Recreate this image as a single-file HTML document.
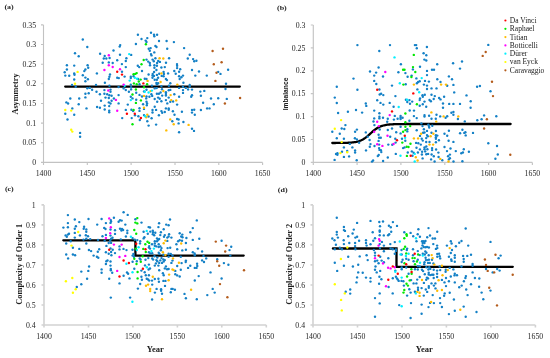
<!DOCTYPE html><html><head><meta charset="utf-8"><style>html,body{margin:0;padding:0;background:#fff;}svg{display:block;}</style></head><body>
<svg width="550" height="358" viewBox="0 0 550 358">
<rect width="550" height="358" fill="#fff"/>
<g stroke="#c2c2c2" stroke-width="1.1" fill="none">
<path d="M43.5 24.9V162.4H262.6"/>
<path d="M41 162.4H43.5M41 142.8H43.5M41 123.1H43.5M41 103.5H43.5M41 83.8H43.5M41 64.2H43.5M41 44.5H43.5M41 24.9H43.5M43.5 162.4V164.9M87.3 162.4V164.9M131.1 162.4V164.9M175 162.4V164.9M218.8 162.4V164.9M262.6 162.4V164.9"/>
</g>
<g font-family="'Liberation Serif', 'DejaVu Serif', serif" font-size="7.8" fill="#262626">
<text x="36.1" y="165" text-anchor="end">0</text>
<text x="36.1" y="145.4" text-anchor="end">0.05</text>
<text x="36.1" y="125.7" text-anchor="end">0.1</text>
<text x="36.1" y="106.1" text-anchor="end">0.15</text>
<text x="36.1" y="86.4" text-anchor="end">0.2</text>
<text x="36.1" y="66.8" text-anchor="end">0.25</text>
<text x="36.1" y="47.1" text-anchor="end">0.3</text>
<text x="36.1" y="27.5" text-anchor="end">0.35</text>
<text x="43.5" y="176" text-anchor="middle">1400</text>
<text x="87.3" y="176" text-anchor="middle">1450</text>
<text x="131.1" y="176" text-anchor="middle">1500</text>
<text x="175" y="176" text-anchor="middle">1550</text>
<text x="218.8" y="176" text-anchor="middle">1600</text>
<text x="262.6" y="176" text-anchor="middle">1650</text>
</g>
<text transform="translate(4.4 8.9) scale(1 0.82)" font-family="'Liberation Serif', 'DejaVu Serif', serif" font-weight="bold" font-size="8" fill="#1a1a1a">(a)</text>
<text transform="translate(17.6 94) rotate(-90)" text-anchor="middle" font-family="'Liberation Serif', 'DejaVu Serif', serif" font-weight="bold" font-size="7.8" fill="#202020" textLength="41" lengthAdjust="spacingAndGlyphs">Asymmetry</text>
<g stroke="#c6c6c6" stroke-width="1.2" fill="none">
<path d="M313.3 25V162.4H532.4"/>
<path d="M310.8 162.4H313.3M310.8 139.5H313.3M310.8 116.6H313.3M310.8 93.7H313.3M310.8 70.8H313.3M310.8 47.9H313.3M310.8 25H313.3M313.3 162.4V164.9M357.1 162.4V164.9M400.9 162.4V164.9M444.8 162.4V164.9M488.6 162.4V164.9M532.4 162.4V164.9"/>
</g>
<g font-family="'Liberation Serif', 'DejaVu Serif', serif" font-size="7.8" fill="#262626">
<text x="305.4" y="165" text-anchor="end">0</text>
<text x="305.4" y="142.1" text-anchor="end">0.05</text>
<text x="305.4" y="119.2" text-anchor="end">0.1</text>
<text x="305.4" y="96.3" text-anchor="end">0.15</text>
<text x="305.4" y="73.4" text-anchor="end">0.2</text>
<text x="305.4" y="50.5" text-anchor="end">0.25</text>
<text x="305.4" y="27.6" text-anchor="end">0.3</text>
<text x="313.3" y="176" text-anchor="middle">1400</text>
<text x="357.1" y="176" text-anchor="middle">1450</text>
<text x="400.9" y="176" text-anchor="middle">1500</text>
<text x="444.8" y="176" text-anchor="middle">1550</text>
<text x="488.6" y="176" text-anchor="middle">1600</text>
<text x="532.4" y="176" text-anchor="middle">1650</text>
</g>
<text transform="translate(277 9.7) scale(1 0.82)" font-family="'Liberation Serif', 'DejaVu Serif', serif" font-weight="bold" font-size="8" fill="#1a1a1a">(b)</text>
<text transform="translate(287.6 94) rotate(-90)" text-anchor="middle" font-family="'Liberation Sans', 'DejaVu Sans', sans-serif" font-weight="bold" font-size="6.7" fill="#202020" textLength="32.7" lengthAdjust="spacingAndGlyphs">Imbalance</text>
<g stroke="#d2d2d2" stroke-width="1.6" fill="none">
<path d="M44 204.9V325H266.3"/>
<path d="M41.5 325H44M41.5 305H44M41.5 285H44M41.5 264.9H44M41.5 244.9H44M41.5 224.9H44M41.5 204.9H44M44 325V327.5M88.5 325V327.5M132.9 325V327.5M177.4 325V327.5M221.8 325V327.5M266.3 325V327.5"/>
</g>
<g font-family="'Liberation Serif', 'DejaVu Serif', serif" font-size="7.8" fill="#262626">
<text x="35.7" y="327.6" text-anchor="end">0.4</text>
<text x="35.7" y="307.6" text-anchor="end">0.5</text>
<text x="35.7" y="287.6" text-anchor="end">0.6</text>
<text x="35.7" y="267.6" text-anchor="end">0.7</text>
<text x="35.7" y="247.5" text-anchor="end">0.8</text>
<text x="35.7" y="227.5" text-anchor="end">0.9</text>
<text x="35.7" y="207.5" text-anchor="end">1</text>
<text x="44" y="338.6" text-anchor="middle">1400</text>
<text x="88.5" y="338.6" text-anchor="middle">1450</text>
<text x="132.9" y="338.6" text-anchor="middle">1500</text>
<text x="177.4" y="338.6" text-anchor="middle">1550</text>
<text x="221.8" y="338.6" text-anchor="middle">1600</text>
<text x="266.3" y="338.6" text-anchor="middle">1650</text>
</g>
<text transform="translate(4.9 190.9) scale(1 0.82)" font-family="'Liberation Serif', 'DejaVu Serif', serif" font-weight="bold" font-size="8" fill="#1a1a1a">(c)</text>
<text transform="translate(21.5 264.3) rotate(-90)" text-anchor="middle" font-family="'Liberation Serif', 'DejaVu Serif', serif" font-weight="bold" font-size="7.9" fill="#202020" textLength="81" lengthAdjust="spacingAndGlyphs">Complexity of Order 1</text>
<text x="155.2" y="352" text-anchor="middle" font-family="'Liberation Serif', 'DejaVu Serif', serif" font-weight="bold" font-size="8.5" fill="#202020">Year</text>
<g stroke="#d2d2d2" stroke-width="1.6" fill="none">
<path d="M313 204.9V325H535.4"/>
<path d="M310.5 325H313M310.5 305H313M310.5 285H313M310.5 264.9H313M310.5 244.9H313M310.5 224.9H313M310.5 204.9H313M313 325V327.5M357.5 325V327.5M402 325V327.5M446.4 325V327.5M490.9 325V327.5M535.4 325V327.5"/>
</g>
<g font-family="'Liberation Serif', 'DejaVu Serif', serif" font-size="7.8" fill="#262626">
<text x="305.1" y="327.6" text-anchor="end">0.4</text>
<text x="305.1" y="307.6" text-anchor="end">0.5</text>
<text x="305.1" y="287.6" text-anchor="end">0.6</text>
<text x="305.1" y="267.6" text-anchor="end">0.7</text>
<text x="305.1" y="247.5" text-anchor="end">0.8</text>
<text x="305.1" y="227.5" text-anchor="end">0.9</text>
<text x="305.1" y="207.5" text-anchor="end">1</text>
<text x="313" y="338.6" text-anchor="middle">1400</text>
<text x="357.5" y="338.6" text-anchor="middle">1450</text>
<text x="402" y="338.6" text-anchor="middle">1500</text>
<text x="446.4" y="338.6" text-anchor="middle">1550</text>
<text x="490.9" y="338.6" text-anchor="middle">1600</text>
<text x="535.4" y="338.6" text-anchor="middle">1650</text>
</g>
<text transform="translate(277.8 191.6) scale(1 0.82)" font-family="'Liberation Serif', 'DejaVu Serif', serif" font-weight="bold" font-size="8" fill="#1a1a1a">(d)</text>
<text transform="translate(291.5 264.3) rotate(-90)" text-anchor="middle" font-family="'Liberation Serif', 'DejaVu Serif', serif" font-weight="bold" font-size="7.9" fill="#202020" textLength="81" lengthAdjust="spacingAndGlyphs">Complexity of Order 2</text>
<text x="424.2" y="352" text-anchor="middle" font-family="'Liberation Serif', 'DejaVu Serif', serif" font-weight="bold" font-size="8.5" fill="#202020">Year</text>
<g stroke="#000" stroke-width="2.3" fill="none" stroke-linecap="round">
<path d="M65.2 86.6H239.8"/>
<path d="M332.3 142.99 L333.3 142.99 L334.3 142.98 L335.3 142.98 L336.3 142.97 L337.3 142.97 L338.3 142.96 L339.3 142.95 L340.3 142.94 L341.3 142.93 L342.3 142.92 L343.3 142.90 L344.3 142.88 L345.3 142.85 L346.3 142.82 L347.3 142.78 L348.3 142.74 L349.3 142.68 L350.3 142.62 L351.3 142.54 L352.3 142.44 L353.3 142.33 L354.3 142.19 L355.3 142.03 L356.3 141.84 L357.3 141.61 L358.3 141.34 L359.3 141.02 L360.3 140.66 L361.3 140.23 L362.3 139.75 L363.3 139.19 L364.3 138.58 L365.3 137.89 L366.3 137.14 L367.3 136.33 L368.3 135.48 L369.3 134.59 L370.3 133.68 L371.3 132.77 L372.3 131.87 L373.3 131.00 L374.3 130.18 L375.3 129.40 L376.3 128.69 L377.3 128.04 L378.3 127.47 L379.3 126.95 L380.3 126.51 L381.3 126.12 L382.3 125.78 L383.3 125.49 L384.3 125.25 L385.3 125.04 L386.3 124.87 L387.3 124.72 L388.3 124.60 L389.3 124.50 L390.3 124.41 L391.3 124.34 L392.3 124.28 L393.3 124.23 L394.3 124.19 L395.3 124.16 L396.3 124.13 L397.3 124.11 L398.3 124.09 L399.3 124.07 L400.3 124.06 L401.3 124.05 L402.3 124.04 L403.3 124.03 L404.3 124.03 L405.3 124.02 L406.3 124.02 L407.3 124.02 L408.3 124.01 L409.3 124.01 L410.3 124.01 L411.3 124.01 L412.3 124.01 L413.3 124.01 L414.3 124.00 L415.3 124.00 L416.3 124.00 L417.3 124.00 L418.3 124.00 L419.3 124.00 L420.3 124.00 L421.3 124.00 L422.3 124.00 L423.3 124.00 L424.3 124.00 L425.3 124.00 L426.3 124.00 L427.3 124.00 L428.3 124.00 L429.3 124.00 L430.3 124.00 L431.3 124.00 L432.3 124.00 L433.3 124.00 L434.3 124.00 L435.3 124.00 L436.3 124.00 L437.3 124.00 L438.3 124.00 L439.3 124.00 L440.3 124.00 L441.3 124.00 L442.3 124.00 L443.3 124.00 L444.3 124.00 L445.3 124.00 L446.3 124.00 L447.3 124.00 L448.3 124.00 L449.3 124.00 L450.3 124.00 L451.3 124.00 L452.3 124.00 L453.3 124.00 L454.3 124.00 L455.3 124.00 L456.3 124.00 L457.3 124.00 L458.3 124.00 L459.3 124.00 L460.3 124.00 L461.3 124.00 L462.3 124.00 L463.3 124.00 L464.3 124.00 L465.3 124.00 L466.3 124.00 L467.3 124.00 L468.3 124.00 L469.3 124.00 L470.3 124.00 L471.3 124.00 L472.3 124.00 L473.3 124.00 L474.3 124.00 L475.3 124.00 L476.3 124.00 L477.3 124.00 L478.3 124.00 L479.3 124.00 L480.3 124.00 L481.3 124.00 L482.3 124.00 L483.3 124.00 L484.3 124.00 L485.3 124.00 L486.3 124.00 L487.3 124.00 L488.3 124.00 L489.3 124.00 L490.3 124.00 L491.3 124.00 L492.3 124.00 L493.3 124.00 L494.3 124.00 L495.3 124.00 L496.3 124.00 L497.3 124.00 L498.3 124.00 L499.3 124.00 L500.3 124.00 L501.3 124.00 L502.3 124.00 L503.3 124.00 L504.3 124.00 L505.3 124.00 L506.3 124.00 L507.3 124.00 L508.3 124.00 L509.3 124.00 L510.3 124.00 L510.6 124.00"/>
<path d="M63.3 240.3H134.4 C135.1 240.3 135.4 241 135.4 242.5 V255.6 H243.7"/>
<path d="M332.9 248.5H396.5 V266.8 H512.8"/>
</g>
<g fill="#1380c6">
<circle cx="82.8" cy="39.5" r="1.2"/>
<circle cx="87.3" cy="47" r="1.2"/>
<circle cx="75" cy="53.3" r="1.2"/>
<circle cx="78.7" cy="56.3" r="1.2"/>
<circle cx="100.1" cy="53.7" r="1.2"/>
<circle cx="104.7" cy="55.9" r="1.2"/>
<circle cx="103.8" cy="58.5" r="1.2"/>
<circle cx="106.3" cy="58.5" r="1.2"/>
<circle cx="109.6" cy="58" r="1.2"/>
<circle cx="113.5" cy="50.5" r="1.2"/>
<circle cx="117.2" cy="60.2" r="1.2"/>
<circle cx="102.7" cy="62.7" r="1.2"/>
<circle cx="108.8" cy="62.4" r="1.2"/>
<circle cx="112.7" cy="63" r="1.2"/>
<circle cx="137.9" cy="34.8" r="1.2"/>
<circle cx="151" cy="32.8" r="1.2"/>
<circle cx="154" cy="34.8" r="1.2"/>
<circle cx="154.3" cy="36.2" r="1.2"/>
<circle cx="157.1" cy="34.8" r="1.2"/>
<circle cx="141.5" cy="39" r="1.2"/>
<circle cx="147.3" cy="38.1" r="1.2"/>
<circle cx="145.7" cy="40.6" r="1.2"/>
<circle cx="146.5" cy="42" r="1.2"/>
<circle cx="135.9" cy="44" r="1.2"/>
<circle cx="159" cy="41" r="1.2"/>
<circle cx="166.6" cy="41" r="1.2"/>
<circle cx="173.9" cy="42.1" r="1.2"/>
<circle cx="120.2" cy="45.1" r="1.2"/>
<circle cx="119.7" cy="46.6" r="1.2"/>
<circle cx="155.4" cy="45.9" r="1.2"/>
<circle cx="156.5" cy="47" r="1.2"/>
<circle cx="167.2" cy="48.8" r="1.2"/>
<circle cx="148.7" cy="48.8" r="1.2"/>
<circle cx="150.6" cy="48.1" r="1.2"/>
<circle cx="149.8" cy="50.7" r="1.2"/>
<circle cx="154.3" cy="52.4" r="1.2"/>
<circle cx="131.2" cy="54.9" r="1.2"/>
<circle cx="120" cy="54.8" r="1.2"/>
<circle cx="151" cy="54.1" r="1.2"/>
<circle cx="151.5" cy="55.4" r="1.2"/>
<circle cx="126.4" cy="58.2" r="1.2"/>
<circle cx="125.8" cy="61" r="1.2"/>
<circle cx="146.5" cy="59.6" r="1.2"/>
<circle cx="148.2" cy="61.6" r="1.2"/>
<circle cx="149.8" cy="63" r="1.2"/>
<circle cx="152.6" cy="59.6" r="1.2"/>
<circle cx="153.8" cy="61.3" r="1.2"/>
<circle cx="155.4" cy="58.2" r="1.2"/>
<circle cx="158.2" cy="61" r="1.2"/>
<circle cx="159.9" cy="61.9" r="1.2"/>
<circle cx="157.1" cy="63" r="1.2"/>
<circle cx="169.1" cy="58.2" r="1.2"/>
<circle cx="166" cy="62.7" r="1.2"/>
<circle cx="121.9" cy="64.1" r="1.2"/>
<circle cx="177" cy="64.1" r="1.2"/>
<circle cx="184.1" cy="48.1" r="1.2"/>
<circle cx="189.7" cy="54.8" r="1.2"/>
<circle cx="187.8" cy="58.5" r="1.2"/>
<circle cx="193.1" cy="59.1" r="1.2"/>
<circle cx="194.2" cy="61.3" r="1.2"/>
<circle cx="196.4" cy="60.8" r="1.2"/>
<circle cx="66.9" cy="65.3" r="1.2"/>
<circle cx="74.2" cy="65.6" r="1.2"/>
<circle cx="87.6" cy="65.3" r="1.2"/>
<circle cx="66.9" cy="69.5" r="1.2"/>
<circle cx="64.7" cy="72.3" r="1.2"/>
<circle cx="65.3" cy="75.6" r="1.2"/>
<circle cx="69.2" cy="75.8" r="1.2"/>
<circle cx="74.2" cy="73.4" r="1.2"/>
<circle cx="74.5" cy="74.8" r="1.2"/>
<circle cx="85.4" cy="69.5" r="1.2"/>
<circle cx="84.3" cy="71.1" r="1.2"/>
<circle cx="88.2" cy="67.8" r="1.2"/>
<circle cx="82.8" cy="75.3" r="1.2"/>
<circle cx="85.4" cy="77.6" r="1.2"/>
<circle cx="87.9" cy="79.3" r="1.2"/>
<circle cx="85.4" cy="81.2" r="1.2"/>
<circle cx="74.2" cy="79.5" r="1.2"/>
<circle cx="96.9" cy="73.4" r="1.2"/>
<circle cx="110" cy="74.5" r="1.2"/>
<circle cx="109.4" cy="76.7" r="1.2"/>
<circle cx="108.8" cy="79" r="1.2"/>
<circle cx="117.2" cy="77.8" r="1.2"/>
<circle cx="104.9" cy="82.7" r="1.2"/>
<circle cx="72" cy="84.9" r="1.2"/>
<circle cx="75.7" cy="86.8" r="1.2"/>
<circle cx="96" cy="84.9" r="1.2"/>
<circle cx="109.4" cy="85.7" r="1.2"/>
<circle cx="87.3" cy="88.2" r="1.2"/>
<circle cx="89.8" cy="87.9" r="1.2"/>
<circle cx="92.1" cy="89.8" r="1.2"/>
<circle cx="96.5" cy="91.8" r="1.2"/>
<circle cx="99.9" cy="94.3" r="1.2"/>
<circle cx="85.4" cy="93.8" r="1.2"/>
<circle cx="88.7" cy="93.2" r="1.2"/>
<circle cx="85.4" cy="97.4" r="1.2"/>
<circle cx="70.3" cy="98.5" r="1.2"/>
<circle cx="79.2" cy="98.5" r="1.2"/>
<circle cx="104.4" cy="90.1" r="1.2"/>
<circle cx="110.5" cy="89.6" r="1.2"/>
<circle cx="110.5" cy="91.8" r="1.2"/>
<circle cx="104.4" cy="93.8" r="1.2"/>
<circle cx="107.2" cy="94.3" r="1.2"/>
<circle cx="109.4" cy="95.2" r="1.2"/>
<circle cx="111.6" cy="95.7" r="1.2"/>
<circle cx="105.5" cy="97.6" r="1.2"/>
<circle cx="108.8" cy="98" r="1.2"/>
<circle cx="113.9" cy="98.5" r="1.2"/>
<circle cx="101" cy="100.8" r="1.2"/>
<circle cx="111.6" cy="100.8" r="1.2"/>
<circle cx="66.4" cy="102.4" r="1.2"/>
<circle cx="68.1" cy="103.5" r="1.2"/>
<circle cx="108.8" cy="102.4" r="1.2"/>
<circle cx="110.5" cy="103.5" r="1.2"/>
<circle cx="78.7" cy="104.3" r="1.2"/>
<circle cx="125.8" cy="67.1" r="1.2"/>
<circle cx="137.8" cy="65.7" r="1.2"/>
<circle cx="139.2" cy="67.1" r="1.2"/>
<circle cx="122" cy="71.7" r="1.2"/>
<circle cx="124.6" cy="76.6" r="1.2"/>
<circle cx="118.8" cy="78.1" r="1.2"/>
<circle cx="142" cy="71" r="1.2"/>
<circle cx="133.6" cy="76.2" r="1.2"/>
<circle cx="130.8" cy="76.7" r="1.2"/>
<circle cx="130.8" cy="78.1" r="1.2"/>
<circle cx="138.1" cy="79" r="1.2"/>
<circle cx="144.8" cy="78.7" r="1.2"/>
<circle cx="146.5" cy="79" r="1.2"/>
<circle cx="130.8" cy="84.6" r="1.2"/>
<circle cx="139.5" cy="84.3" r="1.2"/>
<circle cx="150" cy="65.3" r="1.2"/>
<circle cx="154.4" cy="65.3" r="1.2"/>
<circle cx="156.9" cy="65.8" r="1.2"/>
<circle cx="154.4" cy="67.8" r="1.2"/>
<circle cx="161.4" cy="67.5" r="1.2"/>
<circle cx="164.8" cy="67.1" r="1.2"/>
<circle cx="177.1" cy="65.8" r="1.2"/>
<circle cx="177.1" cy="68.1" r="1.2"/>
<circle cx="156.4" cy="70" r="1.2"/>
<circle cx="154.1" cy="72" r="1.2"/>
<circle cx="148.6" cy="74.5" r="1.2"/>
<circle cx="152.7" cy="73.9" r="1.2"/>
<circle cx="152.5" cy="75.6" r="1.2"/>
<circle cx="153.9" cy="75.9" r="1.2"/>
<circle cx="156.9" cy="74.9" r="1.2"/>
<circle cx="159.2" cy="73.7" r="1.2"/>
<circle cx="163.6" cy="72" r="1.2"/>
<circle cx="163.9" cy="73.9" r="1.2"/>
<circle cx="161.7" cy="75.9" r="1.2"/>
<circle cx="163.6" cy="76.2" r="1.2"/>
<circle cx="168.1" cy="73.4" r="1.2"/>
<circle cx="174.3" cy="71" r="1.2"/>
<circle cx="175.7" cy="73.8" r="1.2"/>
<circle cx="152.5" cy="77.8" r="1.2"/>
<circle cx="158.1" cy="77.8" r="1.2"/>
<circle cx="154.7" cy="79.8" r="1.2"/>
<circle cx="156.9" cy="79.8" r="1.2"/>
<circle cx="165.9" cy="79" r="1.2"/>
<circle cx="167" cy="80.1" r="1.2"/>
<circle cx="156.4" cy="82.9" r="1.2"/>
<circle cx="158.1" cy="83.2" r="1.2"/>
<circle cx="170.3" cy="83.3" r="1.2"/>
<circle cx="156.9" cy="84.3" r="1.2"/>
<circle cx="131.1" cy="87.2" r="1.2"/>
<circle cx="118.6" cy="87" r="1.2"/>
<circle cx="123.6" cy="88.4" r="1.2"/>
<circle cx="125.8" cy="90" r="1.2"/>
<circle cx="131.1" cy="89.4" r="1.2"/>
<circle cx="128.9" cy="91.7" r="1.2"/>
<circle cx="136.2" cy="92.8" r="1.2"/>
<circle cx="144" cy="91.4" r="1.2"/>
<circle cx="146.5" cy="89.7" r="1.2"/>
<circle cx="139.5" cy="94.9" r="1.2"/>
<circle cx="142" cy="96.5" r="1.2"/>
<circle cx="146.5" cy="96.5" r="1.2"/>
<circle cx="146.2" cy="98.4" r="1.2"/>
<circle cx="118.6" cy="95.1" r="1.2"/>
<circle cx="130.8" cy="96.7" r="1.2"/>
<circle cx="132.5" cy="98.4" r="1.2"/>
<circle cx="136.2" cy="99.8" r="1.2"/>
<circle cx="146.5" cy="101.8" r="1.2"/>
<circle cx="147.1" cy="103.4" r="1.2"/>
<circle cx="118.6" cy="103.4" r="1.2"/>
<circle cx="127.8" cy="104.6" r="1.2"/>
<circle cx="143.1" cy="104.3" r="1.2"/>
<circle cx="151.9" cy="85.6" r="1.2"/>
<circle cx="161.4" cy="86.1" r="1.2"/>
<circle cx="168.9" cy="85.8" r="1.2"/>
<circle cx="154.7" cy="88.4" r="1.2"/>
<circle cx="156.7" cy="88.1" r="1.2"/>
<circle cx="162" cy="89.2" r="1.2"/>
<circle cx="168.7" cy="90.3" r="1.2"/>
<circle cx="170.3" cy="89.9" r="1.2"/>
<circle cx="156.9" cy="93.7" r="1.2"/>
<circle cx="158.9" cy="93.7" r="1.2"/>
<circle cx="160.6" cy="92.5" r="1.2"/>
<circle cx="165.9" cy="92.3" r="1.2"/>
<circle cx="165.9" cy="93.9" r="1.2"/>
<circle cx="165.9" cy="95.6" r="1.2"/>
<circle cx="151.4" cy="94.2" r="1.2"/>
<circle cx="152.2" cy="95.9" r="1.2"/>
<circle cx="149.4" cy="96.7" r="1.2"/>
<circle cx="162.2" cy="95.6" r="1.2"/>
<circle cx="174.3" cy="94.2" r="1.2"/>
<circle cx="158.1" cy="97.6" r="1.2"/>
<circle cx="159.7" cy="98.7" r="1.2"/>
<circle cx="154.7" cy="99" r="1.2"/>
<circle cx="168.7" cy="97.6" r="1.2"/>
<circle cx="165.9" cy="100.1" r="1.2"/>
<circle cx="157.2" cy="101.8" r="1.2"/>
<circle cx="161.4" cy="101.2" r="1.2"/>
<circle cx="170.3" cy="101.8" r="1.2"/>
<circle cx="173.1" cy="101.5" r="1.2"/>
<circle cx="167.3" cy="103.4" r="1.2"/>
<circle cx="177.1" cy="104.6" r="1.2"/>
<circle cx="180.2" cy="69.2" r="1.2"/>
<circle cx="179.1" cy="71.7" r="1.2"/>
<circle cx="192" cy="70" r="1.2"/>
<circle cx="199" cy="71.5" r="1.2"/>
<circle cx="195.3" cy="75.6" r="1.2"/>
<circle cx="206.8" cy="75.6" r="1.2"/>
<circle cx="218.2" cy="71.9" r="1.2"/>
<circle cx="220.5" cy="73.9" r="1.2"/>
<circle cx="228.1" cy="69.7" r="1.2"/>
<circle cx="179.1" cy="76.2" r="1.2"/>
<circle cx="183" cy="75.6" r="1.2"/>
<circle cx="181.4" cy="77.3" r="1.2"/>
<circle cx="179.7" cy="79" r="1.2"/>
<circle cx="183.4" cy="82.7" r="1.2"/>
<circle cx="189.7" cy="84.9" r="1.2"/>
<circle cx="189.7" cy="86.5" r="1.2"/>
<circle cx="226" cy="83.8" r="1.2"/>
<circle cx="179.1" cy="87.9" r="1.2"/>
<circle cx="183" cy="86.8" r="1.2"/>
<circle cx="185.8" cy="87.9" r="1.2"/>
<circle cx="188.1" cy="89.4" r="1.2"/>
<circle cx="192" cy="89.6" r="1.2"/>
<circle cx="183" cy="90.1" r="1.2"/>
<circle cx="225.5" cy="89" r="1.2"/>
<circle cx="200.3" cy="91.6" r="1.2"/>
<circle cx="204.3" cy="90.9" r="1.2"/>
<circle cx="183" cy="92.9" r="1.2"/>
<circle cx="192" cy="95.2" r="1.2"/>
<circle cx="191.2" cy="96.8" r="1.2"/>
<circle cx="200.9" cy="95.7" r="1.2"/>
<circle cx="179.1" cy="96.8" r="1.2"/>
<circle cx="211" cy="98.5" r="1.2"/>
<circle cx="218.2" cy="98.2" r="1.2"/>
<circle cx="226.8" cy="98.9" r="1.2"/>
<circle cx="203.1" cy="102.8" r="1.2"/>
<circle cx="213.8" cy="104.3" r="1.2"/>
<circle cx="72.3" cy="108.4" r="1.2"/>
<circle cx="65.3" cy="113.7" r="1.2"/>
<circle cx="74.2" cy="114.8" r="1.2"/>
<circle cx="67.5" cy="119.5" r="1.2"/>
<circle cx="86.5" cy="108.4" r="1.2"/>
<circle cx="97.1" cy="107" r="1.2"/>
<circle cx="99.9" cy="107.8" r="1.2"/>
<circle cx="104.7" cy="105.6" r="1.2"/>
<circle cx="104.7" cy="109.5" r="1.2"/>
<circle cx="109.2" cy="106.1" r="1.2"/>
<circle cx="109.2" cy="110.6" r="1.2"/>
<circle cx="109.2" cy="112.3" r="1.2"/>
<circle cx="80.1" cy="132.9" r="1.2"/>
<circle cx="80.1" cy="136.8" r="1.2"/>
<circle cx="146.8" cy="105.3" r="1.2"/>
<circle cx="125.8" cy="109.9" r="1.2"/>
<circle cx="131.4" cy="109.7" r="1.2"/>
<circle cx="133.1" cy="111.1" r="1.2"/>
<circle cx="139.5" cy="108.2" r="1.2"/>
<circle cx="139.5" cy="110.9" r="1.2"/>
<circle cx="144" cy="108.9" r="1.2"/>
<circle cx="135" cy="115.3" r="1.2"/>
<circle cx="138.4" cy="116.2" r="1.2"/>
<circle cx="144" cy="115.1" r="1.2"/>
<circle cx="122.2" cy="118.1" r="1.2"/>
<circle cx="131.7" cy="118.1" r="1.2"/>
<circle cx="139.8" cy="120" r="1.2"/>
<circle cx="147.3" cy="121.2" r="1.2"/>
<circle cx="154.7" cy="106.7" r="1.2"/>
<circle cx="152.5" cy="110" r="1.2"/>
<circle cx="152.5" cy="112.5" r="1.2"/>
<circle cx="156.1" cy="109.9" r="1.2"/>
<circle cx="161.4" cy="111.1" r="1.2"/>
<circle cx="162.2" cy="112.8" r="1.2"/>
<circle cx="164.8" cy="112" r="1.2"/>
<circle cx="165.9" cy="108.4" r="1.2"/>
<circle cx="168.7" cy="108.4" r="1.2"/>
<circle cx="168.7" cy="109.7" r="1.2"/>
<circle cx="172.9" cy="111.3" r="1.2"/>
<circle cx="174.5" cy="114.8" r="1.2"/>
<circle cx="148.6" cy="116.5" r="1.2"/>
<circle cx="158.9" cy="115.3" r="1.2"/>
<circle cx="151.6" cy="118.3" r="1.2"/>
<circle cx="172.3" cy="121.3" r="1.2"/>
<circle cx="177.1" cy="119" r="1.2"/>
<circle cx="156.1" cy="124.6" r="1.2"/>
<circle cx="148.6" cy="125.6" r="1.2"/>
<circle cx="181.9" cy="111.7" r="1.2"/>
<circle cx="192" cy="110" r="1.2"/>
<circle cx="194.2" cy="109.8" r="1.2"/>
<circle cx="192" cy="112.6" r="1.2"/>
<circle cx="194.8" cy="114.8" r="1.2"/>
<circle cx="200.9" cy="110" r="1.2"/>
<circle cx="207.1" cy="108.4" r="1.2"/>
<circle cx="209.5" cy="108.4" r="1.2"/>
<circle cx="178.6" cy="119.5" r="1.2"/>
<circle cx="178.6" cy="123.4" r="1.2"/>
<circle cx="183.4" cy="122" r="1.2"/>
<circle cx="192" cy="128.8" r="1.2"/>
<circle cx="194" cy="130.9" r="1.2"/>
<circle cx="179.1" cy="132.2" r="1.2"/>
</g>
<g fill="#b45c1c">
<circle cx="212.6" cy="51" r="1.2"/>
<circle cx="223" cy="48.8" r="1.2"/>
<circle cx="221.6" cy="62.2" r="1.2"/>
<circle cx="213.8" cy="64.3" r="1.2"/>
<circle cx="216.5" cy="72.8" r="1.2"/>
<circle cx="215.4" cy="80.9" r="1.2"/>
<circle cx="224.9" cy="103.5" r="1.2"/>
<circle cx="240.1" cy="98" r="1.2"/>
</g>
<g fill="#ffbc00">
<circle cx="159.6" cy="58.3" r="1.2"/>
<circle cx="163.3" cy="58.5" r="1.2"/>
<circle cx="147.6" cy="80.9" r="1.2"/>
<circle cx="161.4" cy="73.4" r="1.2"/>
<circle cx="160.6" cy="82" r="1.2"/>
<circle cx="177.3" cy="84.6" r="1.2"/>
<circle cx="144" cy="95.9" r="1.2"/>
<circle cx="150.5" cy="91.1" r="1.2"/>
<circle cx="163.4" cy="91.1" r="1.2"/>
<circle cx="170.6" cy="95.1" r="1.2"/>
<circle cx="171.2" cy="100.1" r="1.2"/>
<circle cx="176.2" cy="100.4" r="1.2"/>
<circle cx="144" cy="107.8" r="1.2"/>
<circle cx="146.2" cy="117.3" r="1.2"/>
<circle cx="147.3" cy="114.8" r="1.2"/>
<circle cx="170.2" cy="119.4" r="1.2"/>
<circle cx="173.7" cy="124.3" r="1.2"/>
<circle cx="166.3" cy="130.4" r="1.2"/>
<circle cx="188.6" cy="124.9" r="1.2"/>
</g>
<g fill="#ffff00">
<circle cx="77.6" cy="71.9" r="1.2"/>
<circle cx="75" cy="83.8" r="1.2"/>
<circle cx="65.3" cy="110" r="1.2"/>
<circle cx="71.2" cy="110.6" r="1.2"/>
<circle cx="71.2" cy="129.8" r="1.2"/>
<circle cx="72.3" cy="131.6" r="1.2"/>
</g>
<g fill="#00f0ff">
<circle cx="129.2" cy="54.1" r="1.2"/>
<circle cx="134.8" cy="77.8" r="1.2"/>
<circle cx="137" cy="78.7" r="1.2"/>
<circle cx="129.7" cy="80.6" r="1.2"/>
<circle cx="124.7" cy="85.8" r="1.2"/>
<circle cx="144.8" cy="91.7" r="1.2"/>
<circle cx="130.8" cy="100.1" r="1.2"/>
<circle cx="151.9" cy="90.6" r="1.2"/>
<circle cx="148.6" cy="92.5" r="1.2"/>
<circle cx="145.1" cy="116.2" r="1.2"/>
</g>
<g fill="#ff00ff">
<circle cx="108.8" cy="55.2" r="1.2"/>
<circle cx="108.8" cy="65.3" r="1.2"/>
<circle cx="112.7" cy="67" r="1.2"/>
<circle cx="104.4" cy="70" r="1.2"/>
<circle cx="108.3" cy="90.5" r="1.2"/>
<circle cx="115.9" cy="99.9" r="1.2"/>
<circle cx="120" cy="69.2" r="1.2"/>
<circle cx="123.6" cy="84.6" r="1.2"/>
<circle cx="117.2" cy="110.8" r="1.2"/>
</g>
<g fill="#00e800">
<circle cx="145.9" cy="44.2" r="1.2"/>
<circle cx="143.7" cy="60" r="1.2"/>
<circle cx="141.5" cy="64.3" r="1.2"/>
<circle cx="133.6" cy="74.2" r="1.2"/>
<circle cx="135.3" cy="73.9" r="1.2"/>
<circle cx="136.7" cy="73.1" r="1.2"/>
<circle cx="140.6" cy="79.6" r="1.2"/>
<circle cx="138.8" cy="81.5" r="1.2"/>
<circle cx="133.9" cy="83.4" r="1.2"/>
<circle cx="136.7" cy="84.3" r="1.2"/>
<circle cx="147.1" cy="84.3" r="1.2"/>
<circle cx="144" cy="87.2" r="1.2"/>
<circle cx="135.9" cy="89.5" r="1.2"/>
<circle cx="132.5" cy="94.5" r="1.2"/>
<circle cx="140.9" cy="100.4" r="1.2"/>
<circle cx="135.9" cy="102.9" r="1.2"/>
<circle cx="133.6" cy="109.9" r="1.2"/>
<circle cx="132.5" cy="124.3" r="1.2"/>
</g>
<g fill="#ff0000">
<circle cx="117.2" cy="71.7" r="1.2"/>
<circle cx="122" cy="74.6" r="1.2"/>
<circle cx="143.4" cy="83.4" r="1.2"/>
<circle cx="126.9" cy="113.7" r="1.2"/>
<circle cx="134.8" cy="113.7" r="1.2"/>
<circle cx="140.9" cy="118" r="1.2"/>
</g>
<g fill="#1380c6">
<circle cx="357.4" cy="45.1" r="1.2"/>
<circle cx="390" cy="45.1" r="1.2"/>
<circle cx="379.3" cy="51" r="1.2"/>
<circle cx="414.9" cy="45.1" r="1.2"/>
<circle cx="416.2" cy="45.1" r="1.2"/>
<circle cx="416.8" cy="48.2" r="1.2"/>
<circle cx="426.9" cy="47" r="1.2"/>
<circle cx="423.6" cy="53.2" r="1.2"/>
<circle cx="426.3" cy="55.2" r="1.2"/>
<circle cx="424.4" cy="59.6" r="1.2"/>
<circle cx="426.3" cy="60.5" r="1.2"/>
<circle cx="400.9" cy="64.3" r="1.2"/>
<circle cx="437.2" cy="64.3" r="1.2"/>
<circle cx="488.3" cy="44.9" r="1.2"/>
<circle cx="462" cy="61.5" r="1.2"/>
<circle cx="453.1" cy="63.3" r="1.2"/>
<circle cx="370" cy="71.5" r="1.2"/>
<circle cx="376.1" cy="72.6" r="1.2"/>
<circle cx="374.2" cy="75.6" r="1.2"/>
<circle cx="353.5" cy="78.6" r="1.2"/>
<circle cx="374.2" cy="80.9" r="1.2"/>
<circle cx="376.3" cy="84" r="1.2"/>
<circle cx="336.8" cy="86.8" r="1.2"/>
<circle cx="357.4" cy="89.8" r="1.2"/>
<circle cx="334.8" cy="97.6" r="1.2"/>
<circle cx="336.8" cy="103" r="1.2"/>
<circle cx="365.8" cy="103.5" r="1.2"/>
<circle cx="377.2" cy="100.2" r="1.2"/>
<circle cx="378.6" cy="67.5" r="1.2"/>
<circle cx="383" cy="76.5" r="1.2"/>
<circle cx="398.4" cy="72.3" r="1.2"/>
<circle cx="405.4" cy="73.1" r="1.2"/>
<circle cx="407.6" cy="76.7" r="1.2"/>
<circle cx="405.7" cy="84.3" r="1.2"/>
<circle cx="412.9" cy="69.4" r="1.2"/>
<circle cx="420" cy="66.7" r="1.2"/>
<circle cx="427" cy="70.9" r="1.2"/>
<circle cx="432" cy="69.7" r="1.2"/>
<circle cx="434" cy="69.7" r="1.2"/>
<circle cx="427" cy="75.1" r="1.2"/>
<circle cx="411.6" cy="75.6" r="1.2"/>
<circle cx="416.4" cy="78.4" r="1.2"/>
<circle cx="425" cy="80.9" r="1.2"/>
<circle cx="428.9" cy="81.6" r="1.2"/>
<circle cx="437.3" cy="79.2" r="1.2"/>
<circle cx="419.7" cy="81.2" r="1.2"/>
<circle cx="418.1" cy="82" r="1.2"/>
<circle cx="416.9" cy="83.2" r="1.2"/>
<circle cx="423.9" cy="84.6" r="1.2"/>
<circle cx="460" cy="68.6" r="1.2"/>
<circle cx="448.9" cy="76.4" r="1.2"/>
<circle cx="452" cy="79.3" r="1.2"/>
<circle cx="440.5" cy="82" r="1.2"/>
<circle cx="447.2" cy="85.8" r="1.2"/>
<circle cx="453.4" cy="84.9" r="1.2"/>
<circle cx="454.2" cy="92.4" r="1.2"/>
<circle cx="477.1" cy="86.8" r="1.2"/>
<circle cx="479.9" cy="86" r="1.2"/>
<circle cx="490.5" cy="91.3" r="1.2"/>
<circle cx="466.5" cy="95.4" r="1.2"/>
<circle cx="439.1" cy="98" r="1.2"/>
<circle cx="440.5" cy="99.4" r="1.2"/>
<circle cx="444.1" cy="96.8" r="1.2"/>
<circle cx="470.7" cy="101.3" r="1.2"/>
<circle cx="443" cy="103.5" r="1.2"/>
<circle cx="449.2" cy="103.9" r="1.2"/>
<circle cx="453.4" cy="103.9" r="1.2"/>
<circle cx="460" cy="103.9" r="1.2"/>
<circle cx="392" cy="85.6" r="1.2"/>
<circle cx="379.4" cy="89.5" r="1.2"/>
<circle cx="379.7" cy="94.5" r="1.2"/>
<circle cx="381.1" cy="93.8" r="1.2"/>
<circle cx="383.3" cy="95.1" r="1.2"/>
<circle cx="395.4" cy="96.1" r="1.2"/>
<circle cx="380.5" cy="102.9" r="1.2"/>
<circle cx="389.7" cy="102.9" r="1.2"/>
<circle cx="383.3" cy="104.6" r="1.2"/>
<circle cx="405.9" cy="99.8" r="1.2"/>
<circle cx="407.3" cy="102" r="1.2"/>
<circle cx="427" cy="85.6" r="1.2"/>
<circle cx="417.4" cy="89.4" r="1.2"/>
<circle cx="427" cy="89" r="1.2"/>
<circle cx="431.5" cy="88.4" r="1.2"/>
<circle cx="436.5" cy="88.4" r="1.2"/>
<circle cx="422.5" cy="95.3" r="1.2"/>
<circle cx="424.8" cy="94.8" r="1.2"/>
<circle cx="422.8" cy="96.7" r="1.2"/>
<circle cx="431.5" cy="94.8" r="1.2"/>
<circle cx="434.8" cy="96.1" r="1.2"/>
<circle cx="420" cy="98.4" r="1.2"/>
<circle cx="419.7" cy="100.1" r="1.2"/>
<circle cx="433.7" cy="99" r="1.2"/>
<circle cx="429.5" cy="100" r="1.2"/>
<circle cx="430.9" cy="101.2" r="1.2"/>
<circle cx="424.5" cy="101.6" r="1.2"/>
<circle cx="409.4" cy="100.1" r="1.2"/>
<circle cx="412.2" cy="101.6" r="1.2"/>
<circle cx="410" cy="103.7" r="1.2"/>
<circle cx="422.8" cy="104.3" r="1.2"/>
<circle cx="366.3" cy="105.9" r="1.2"/>
<circle cx="338.1" cy="113" r="1.2"/>
<circle cx="347.9" cy="111.7" r="1.2"/>
<circle cx="356" cy="110" r="1.2"/>
<circle cx="362.1" cy="112.6" r="1.2"/>
<circle cx="374.2" cy="110.6" r="1.2"/>
<circle cx="374.2" cy="118.4" r="1.2"/>
<circle cx="373.5" cy="121.5" r="1.2"/>
<circle cx="374.4" cy="125.1" r="1.2"/>
<circle cx="345.4" cy="125.1" r="1.2"/>
<circle cx="341.7" cy="128.5" r="1.2"/>
<circle cx="344.3" cy="129" r="1.2"/>
<circle cx="332.3" cy="131.8" r="1.2"/>
<circle cx="339.8" cy="133.8" r="1.2"/>
<circle cx="356.9" cy="129.6" r="1.2"/>
<circle cx="355.1" cy="131.8" r="1.2"/>
<circle cx="365.8" cy="132.4" r="1.2"/>
<circle cx="336.8" cy="138.2" r="1.2"/>
<circle cx="343.9" cy="138.7" r="1.2"/>
<circle cx="354.9" cy="138.3" r="1.2"/>
<circle cx="356.9" cy="139.4" r="1.2"/>
<circle cx="367.7" cy="136.8" r="1.2"/>
<circle cx="369.6" cy="140" r="1.2"/>
<circle cx="359.1" cy="142.7" r="1.2"/>
<circle cx="349.8" cy="143.9" r="1.2"/>
<circle cx="370.5" cy="144.1" r="1.2"/>
<circle cx="393.6" cy="106.7" r="1.2"/>
<circle cx="379.4" cy="113.3" r="1.2"/>
<circle cx="394.8" cy="115.9" r="1.2"/>
<circle cx="400.6" cy="115.9" r="1.2"/>
<circle cx="400.6" cy="117.6" r="1.2"/>
<circle cx="402.6" cy="117.7" r="1.2"/>
<circle cx="400.6" cy="119" r="1.2"/>
<circle cx="379.4" cy="116.7" r="1.2"/>
<circle cx="379.4" cy="118.4" r="1.2"/>
<circle cx="383" cy="117.7" r="1.2"/>
<circle cx="387.8" cy="118.7" r="1.2"/>
<circle cx="393.9" cy="119.6" r="1.2"/>
<circle cx="397.6" cy="118.7" r="1.2"/>
<circle cx="387.2" cy="121.8" r="1.2"/>
<circle cx="419.7" cy="105.7" r="1.2"/>
<circle cx="426.2" cy="106.7" r="1.2"/>
<circle cx="409.7" cy="110.5" r="1.2"/>
<circle cx="414" cy="110.6" r="1.2"/>
<circle cx="413.9" cy="116.1" r="1.2"/>
<circle cx="416.7" cy="118.1" r="1.2"/>
<circle cx="424.5" cy="115.1" r="1.2"/>
<circle cx="424.5" cy="116.5" r="1.2"/>
<circle cx="429.1" cy="115.8" r="1.2"/>
<circle cx="436.5" cy="114.8" r="1.2"/>
<circle cx="431.5" cy="118.7" r="1.2"/>
<circle cx="435.8" cy="118.7" r="1.2"/>
<circle cx="409.4" cy="120.8" r="1.2"/>
<circle cx="421.4" cy="123.4" r="1.2"/>
<circle cx="428.4" cy="124.6" r="1.2"/>
<circle cx="379.7" cy="129.5" r="1.2"/>
<circle cx="387.8" cy="130" r="1.2"/>
<circle cx="392" cy="128.5" r="1.2"/>
<circle cx="400.6" cy="126.7" r="1.2"/>
<circle cx="407.3" cy="129.2" r="1.2"/>
<circle cx="407.3" cy="131.4" r="1.2"/>
<circle cx="396.2" cy="132.2" r="1.2"/>
<circle cx="400.6" cy="133.4" r="1.2"/>
<circle cx="378.6" cy="134.8" r="1.2"/>
<circle cx="390.2" cy="136.7" r="1.2"/>
<circle cx="379.1" cy="137.8" r="1.2"/>
<circle cx="380.8" cy="137.8" r="1.2"/>
<circle cx="395.3" cy="138.7" r="1.2"/>
<circle cx="402" cy="138.7" r="1.2"/>
<circle cx="405.3" cy="140.8" r="1.2"/>
<circle cx="378.6" cy="140.9" r="1.2"/>
<circle cx="395.6" cy="142.6" r="1.2"/>
<circle cx="388.3" cy="144.6" r="1.2"/>
<circle cx="379.1" cy="144.6" r="1.2"/>
<circle cx="422.5" cy="126.1" r="1.2"/>
<circle cx="428.9" cy="126.1" r="1.2"/>
<circle cx="429.2" cy="127.5" r="1.2"/>
<circle cx="432.3" cy="125.8" r="1.2"/>
<circle cx="416.7" cy="130.3" r="1.2"/>
<circle cx="423.9" cy="129.2" r="1.2"/>
<circle cx="427" cy="130.9" r="1.2"/>
<circle cx="435.9" cy="131" r="1.2"/>
<circle cx="423.1" cy="132.8" r="1.2"/>
<circle cx="424.5" cy="132.5" r="1.2"/>
<circle cx="431.5" cy="132.8" r="1.2"/>
<circle cx="420" cy="135.9" r="1.2"/>
<circle cx="427" cy="135.1" r="1.2"/>
<circle cx="427.8" cy="136.2" r="1.2"/>
<circle cx="435.9" cy="135.3" r="1.2"/>
<circle cx="437.3" cy="135.6" r="1.2"/>
<circle cx="435.9" cy="137.3" r="1.2"/>
<circle cx="435.9" cy="138.7" r="1.2"/>
<circle cx="426.2" cy="138.1" r="1.2"/>
<circle cx="421.7" cy="138.7" r="1.2"/>
<circle cx="422.8" cy="140.6" r="1.2"/>
<circle cx="426.2" cy="142" r="1.2"/>
<circle cx="429.5" cy="142" r="1.2"/>
<circle cx="435.9" cy="142.2" r="1.2"/>
<circle cx="416.1" cy="142.9" r="1.2"/>
<circle cx="418.3" cy="143.2" r="1.2"/>
<circle cx="420.8" cy="144.6" r="1.2"/>
<circle cx="443" cy="107.8" r="1.2"/>
<circle cx="470.6" cy="107.7" r="1.2"/>
<circle cx="451.4" cy="112.8" r="1.2"/>
<circle cx="453.4" cy="111.9" r="1.2"/>
<circle cx="453.4" cy="114.8" r="1.2"/>
<circle cx="440.2" cy="116.4" r="1.2"/>
<circle cx="445.6" cy="117.8" r="1.2"/>
<circle cx="447.2" cy="116.2" r="1.2"/>
<circle cx="457.9" cy="119" r="1.2"/>
<circle cx="464.8" cy="121.4" r="1.2"/>
<circle cx="477.3" cy="120.3" r="1.2"/>
<circle cx="481.6" cy="119.2" r="1.2"/>
<circle cx="484.1" cy="115.4" r="1.2"/>
<circle cx="496.3" cy="116.2" r="1.2"/>
<circle cx="448.9" cy="130.7" r="1.2"/>
<circle cx="462.4" cy="129.8" r="1.2"/>
<circle cx="460.1" cy="133.3" r="1.2"/>
<circle cx="464.3" cy="132.9" r="1.2"/>
<circle cx="465.4" cy="132.2" r="1.2"/>
<circle cx="465.7" cy="135.4" r="1.2"/>
<circle cx="473" cy="132.9" r="1.2"/>
<circle cx="444.5" cy="133.8" r="1.2"/>
<circle cx="447.2" cy="135.7" r="1.2"/>
<circle cx="438.9" cy="140.2" r="1.2"/>
<circle cx="448.6" cy="140.8" r="1.2"/>
<circle cx="453.4" cy="141.9" r="1.2"/>
<circle cx="488.3" cy="143.2" r="1.2"/>
<circle cx="343.9" cy="147.4" r="1.2"/>
<circle cx="352.4" cy="147.4" r="1.2"/>
<circle cx="369.8" cy="146.8" r="1.2"/>
<circle cx="374.5" cy="146" r="1.2"/>
<circle cx="355.1" cy="150.4" r="1.2"/>
<circle cx="355.1" cy="152.5" r="1.2"/>
<circle cx="366" cy="150.4" r="1.2"/>
<circle cx="342" cy="151.8" r="1.2"/>
<circle cx="347.2" cy="150.9" r="1.2"/>
<circle cx="336" cy="154" r="1.2"/>
<circle cx="337.4" cy="153.3" r="1.2"/>
<circle cx="337.4" cy="154.7" r="1.2"/>
<circle cx="343.9" cy="156.9" r="1.2"/>
<circle cx="349.1" cy="156.4" r="1.2"/>
<circle cx="377.8" cy="156.1" r="1.2"/>
<circle cx="334.6" cy="159.9" r="1.2"/>
<circle cx="356.7" cy="160.2" r="1.2"/>
<circle cx="372" cy="161.6" r="1.2"/>
<circle cx="373.1" cy="160.5" r="1.2"/>
<circle cx="392.2" cy="144.8" r="1.2"/>
<circle cx="379.1" cy="148.1" r="1.2"/>
<circle cx="379.5" cy="149.9" r="1.2"/>
<circle cx="380.9" cy="150.3" r="1.2"/>
<circle cx="381.3" cy="152.1" r="1.2"/>
<circle cx="378.7" cy="155" r="1.2"/>
<circle cx="403.1" cy="148.1" r="1.2"/>
<circle cx="404.5" cy="147.4" r="1.2"/>
<circle cx="416.5" cy="147.7" r="1.2"/>
<circle cx="395.8" cy="153.9" r="1.2"/>
<circle cx="407.8" cy="152.5" r="1.2"/>
<circle cx="411.8" cy="151.4" r="1.2"/>
<circle cx="413.6" cy="152.8" r="1.2"/>
<circle cx="412.5" cy="155.7" r="1.2"/>
<circle cx="387.8" cy="157.5" r="1.2"/>
<circle cx="383.1" cy="161" r="1.2"/>
<circle cx="419.9" cy="149.4" r="1.2"/>
<circle cx="424.5" cy="147.4" r="1.2"/>
<circle cx="426.3" cy="146.5" r="1.2"/>
<circle cx="424.5" cy="149.2" r="1.2"/>
<circle cx="427.4" cy="149.2" r="1.2"/>
<circle cx="425.2" cy="151.4" r="1.2"/>
<circle cx="432.1" cy="148.1" r="1.2"/>
<circle cx="432.1" cy="150.1" r="1.2"/>
<circle cx="436.1" cy="149.5" r="1.2"/>
<circle cx="444.5" cy="147" r="1.2"/>
<circle cx="450.5" cy="148.5" r="1.2"/>
<circle cx="447" cy="151.1" r="1.2"/>
<circle cx="417.9" cy="152.5" r="1.2"/>
<circle cx="422.1" cy="151.7" r="1.2"/>
<circle cx="421.9" cy="154.5" r="1.2"/>
<circle cx="426.3" cy="154.3" r="1.2"/>
<circle cx="428.1" cy="153.9" r="1.2"/>
<circle cx="431.6" cy="154.5" r="1.2"/>
<circle cx="433.8" cy="156.2" r="1.2"/>
<circle cx="438.4" cy="152.6" r="1.2"/>
<circle cx="438.6" cy="157" r="1.2"/>
<circle cx="422.6" cy="158.4" r="1.2"/>
<circle cx="431.1" cy="159.4" r="1.2"/>
<circle cx="442.3" cy="160.3" r="1.2"/>
<circle cx="448.1" cy="156.2" r="1.2"/>
<circle cx="449.9" cy="154.6" r="1.2"/>
<circle cx="449.9" cy="158.3" r="1.2"/>
<circle cx="448.8" cy="159.4" r="1.2"/>
<circle cx="434.6" cy="161.5" r="1.2"/>
<circle cx="453.5" cy="161.5" r="1.2"/>
<circle cx="497" cy="146" r="1.2"/>
<circle cx="455.8" cy="151.1" r="1.2"/>
<circle cx="463.8" cy="149.3" r="1.2"/>
<circle cx="461.3" cy="153.3" r="1.2"/>
<circle cx="462.9" cy="152.5" r="1.2"/>
<circle cx="468.9" cy="151.8" r="1.2"/>
<circle cx="497.8" cy="154.5" r="1.2"/>
<circle cx="495.4" cy="158.8" r="1.2"/>
<circle cx="462.4" cy="161.3" r="1.2"/>
</g>
<g fill="#b45c1c">
<circle cx="485.7" cy="52" r="1.2"/>
<circle cx="482.7" cy="55.9" r="1.2"/>
<circle cx="492" cy="81.8" r="1.2"/>
<circle cx="493" cy="96.1" r="1.2"/>
<circle cx="486.9" cy="119.2" r="1.2"/>
<circle cx="484.1" cy="128.5" r="1.2"/>
<circle cx="510.3" cy="154.7" r="1.2"/>
</g>
<g fill="#ffbc00">
<circle cx="413.9" cy="84.6" r="1.2"/>
<circle cx="441.1" cy="84.6" r="1.2"/>
<circle cx="446" cy="84.6" r="1.2"/>
<circle cx="431.4" cy="112.4" r="1.2"/>
<circle cx="436.2" cy="121.6" r="1.2"/>
<circle cx="421.1" cy="133.7" r="1.2"/>
<circle cx="433.4" cy="133.8" r="1.2"/>
<circle cx="430.6" cy="136.2" r="1.2"/>
<circle cx="413.9" cy="138.4" r="1.2"/>
<circle cx="418.1" cy="138.4" r="1.2"/>
<circle cx="429.5" cy="144.6" r="1.2"/>
<circle cx="433.1" cy="144.6" r="1.2"/>
<circle cx="443.6" cy="116.4" r="1.2"/>
<circle cx="458.3" cy="116.4" r="1.2"/>
<circle cx="415.8" cy="157.2" r="1.2"/>
<circle cx="417.6" cy="160.5" r="1.2"/>
<circle cx="440.3" cy="158.9" r="1.2"/>
<circle cx="448.5" cy="161.5" r="1.2"/>
</g>
<g fill="#ffff00">
<circle cx="341.1" cy="120.1" r="1.2"/>
<circle cx="334.8" cy="128.7" r="1.2"/>
<circle cx="341.7" cy="142.1" r="1.2"/>
<circle cx="340.4" cy="153.1" r="1.2"/>
<circle cx="347.2" cy="152.2" r="1.2"/>
</g>
<g fill="#00f0ff">
<circle cx="394.5" cy="57.4" r="1.2"/>
<circle cx="399.8" cy="83.2" r="1.2"/>
<circle cx="421.7" cy="78.1" r="1.2"/>
<circle cx="407.1" cy="99.8" r="1.2"/>
<circle cx="419.2" cy="92.3" r="1.2"/>
<circle cx="398.7" cy="107" r="1.2"/>
<circle cx="405.1" cy="137.8" r="1.2"/>
<circle cx="400.5" cy="155.7" r="1.2"/>
<circle cx="414.7" cy="153.9" r="1.2"/>
<circle cx="414.7" cy="161.5" r="1.2"/>
</g>
<g fill="#ff00ff">
<circle cx="385.3" cy="72" r="1.2"/>
<circle cx="377.2" cy="121.8" r="1.2"/>
<circle cx="374.2" cy="131.8" r="1.2"/>
<circle cx="377.2" cy="144.3" r="1.2"/>
<circle cx="389.7" cy="115.1" r="1.2"/>
<circle cx="378.8" cy="126.1" r="1.2"/>
<circle cx="387.5" cy="135.7" r="1.2"/>
<circle cx="393.6" cy="144" r="1.2"/>
<circle cx="382.4" cy="145.9" r="1.2"/>
</g>
<g fill="#00e800">
<circle cx="413.8" cy="54.9" r="1.2"/>
<circle cx="403.1" cy="69.7" r="1.2"/>
<circle cx="404.5" cy="69.7" r="1.2"/>
<circle cx="403.4" cy="84.6" r="1.2"/>
<circle cx="413" cy="67.1" r="1.2"/>
<circle cx="415.3" cy="72" r="1.2"/>
<circle cx="411.4" cy="77" r="1.2"/>
<circle cx="416.9" cy="104.3" r="1.2"/>
<circle cx="405.4" cy="113.5" r="1.2"/>
<circle cx="405.4" cy="122.3" r="1.2"/>
<circle cx="405.4" cy="126.7" r="1.2"/>
<circle cx="405.4" cy="130.1" r="1.2"/>
<circle cx="403.1" cy="131.8" r="1.2"/>
<circle cx="402.3" cy="142.6" r="1.2"/>
<circle cx="410.2" cy="126.1" r="1.2"/>
<circle cx="410.5" cy="143.7" r="1.2"/>
<circle cx="406.7" cy="146.8" r="1.2"/>
<circle cx="408.5" cy="147" r="1.2"/>
<circle cx="406.9" cy="155.9" r="1.2"/>
</g>
<g fill="#ff0000">
<circle cx="377.2" cy="89.8" r="1.2"/>
<circle cx="413.3" cy="93.4" r="1.2"/>
<circle cx="392" cy="111.4" r="1.2"/>
<circle cx="404.8" cy="135.7" r="1.2"/>
<circle cx="397" cy="140.2" r="1.2"/>
<circle cx="410.7" cy="155.7" r="1.2"/>
</g>
<g fill="#1380c6">
<circle cx="67.9" cy="215.1" r="1.2"/>
<circle cx="74.8" cy="219.5" r="1.2"/>
<circle cx="79.3" cy="222.1" r="1.2"/>
<circle cx="88.5" cy="219" r="1.2"/>
<circle cx="101.6" cy="219" r="1.2"/>
<circle cx="67.9" cy="223.1" r="1.2"/>
<circle cx="63.4" cy="227.6" r="1.2"/>
<circle cx="67.9" cy="227.3" r="1.2"/>
<circle cx="75.9" cy="226.2" r="1.2"/>
<circle cx="74.8" cy="228.7" r="1.2"/>
<circle cx="84.1" cy="226.8" r="1.2"/>
<circle cx="83.7" cy="228.7" r="1.2"/>
<circle cx="86.3" cy="229.4" r="1.2"/>
<circle cx="97.2" cy="224.6" r="1.2"/>
<circle cx="105.9" cy="223.1" r="1.2"/>
<circle cx="104.2" cy="227.9" r="1.2"/>
<circle cx="105.5" cy="229" r="1.2"/>
<circle cx="74.8" cy="232.9" r="1.2"/>
<circle cx="86.3" cy="231.8" r="1.2"/>
<circle cx="69" cy="233.8" r="1.2"/>
<circle cx="67.9" cy="234.6" r="1.2"/>
<circle cx="65.6" cy="235.4" r="1.2"/>
<circle cx="66.8" cy="236.8" r="1.2"/>
<circle cx="79.9" cy="235.4" r="1.2"/>
<circle cx="85.8" cy="235.2" r="1.2"/>
<circle cx="88" cy="236.3" r="1.2"/>
<circle cx="102.5" cy="236.3" r="1.2"/>
<circle cx="105.9" cy="234.9" r="1.2"/>
<circle cx="74.8" cy="237.6" r="1.2"/>
<circle cx="86.3" cy="238.7" r="1.2"/>
<circle cx="90.2" cy="239.1" r="1.2"/>
<circle cx="70.7" cy="241.3" r="1.2"/>
<circle cx="83.5" cy="239.6" r="1.2"/>
<circle cx="98" cy="239.9" r="1.2"/>
<circle cx="104.7" cy="240.8" r="1.2"/>
<circle cx="66.2" cy="243.5" r="1.2"/>
<circle cx="86.3" cy="243.5" r="1.2"/>
<circle cx="108.7" cy="243" r="1.2"/>
<circle cx="123.6" cy="212.2" r="1.2"/>
<circle cx="127.7" cy="214.9" r="1.2"/>
<circle cx="110.8" cy="220.1" r="1.2"/>
<circle cx="111.1" cy="221.5" r="1.2"/>
<circle cx="110.5" cy="222.9" r="1.2"/>
<circle cx="113.9" cy="217.7" r="1.2"/>
<circle cx="118.6" cy="221.8" r="1.2"/>
<circle cx="120" cy="220.2" r="1.2"/>
<circle cx="121.7" cy="220.6" r="1.2"/>
<circle cx="125.3" cy="224.6" r="1.2"/>
<circle cx="135.4" cy="219.2" r="1.2"/>
<circle cx="141.5" cy="222.6" r="1.2"/>
<circle cx="159.1" cy="223.2" r="1.2"/>
<circle cx="166.2" cy="224.6" r="1.2"/>
<circle cx="110.5" cy="229.5" r="1.2"/>
<circle cx="110.5" cy="235.6" r="1.2"/>
<circle cx="115" cy="230.3" r="1.2"/>
<circle cx="115" cy="233.9" r="1.2"/>
<circle cx="120" cy="228.8" r="1.2"/>
<circle cx="122" cy="228.9" r="1.2"/>
<circle cx="121.4" cy="230.6" r="1.2"/>
<circle cx="123.1" cy="230" r="1.2"/>
<circle cx="127.3" cy="230.6" r="1.2"/>
<circle cx="127.3" cy="233.1" r="1.2"/>
<circle cx="125.9" cy="236.5" r="1.2"/>
<circle cx="132.6" cy="238.1" r="1.2"/>
<circle cx="111.1" cy="238.7" r="1.2"/>
<circle cx="112.5" cy="237.8" r="1.2"/>
<circle cx="110.2" cy="240.6" r="1.2"/>
<circle cx="111.1" cy="242.9" r="1.2"/>
<circle cx="120.8" cy="239.4" r="1.2"/>
<circle cx="134.8" cy="239.8" r="1.2"/>
<circle cx="137.3" cy="240.1" r="1.2"/>
<circle cx="148.6" cy="227.1" r="1.2"/>
<circle cx="150" cy="227.5" r="1.2"/>
<circle cx="158.4" cy="227.1" r="1.2"/>
<circle cx="163.7" cy="229.2" r="1.2"/>
<circle cx="143.6" cy="231.7" r="1.2"/>
<circle cx="150.3" cy="231.6" r="1.2"/>
<circle cx="152.8" cy="230.6" r="1.2"/>
<circle cx="153.1" cy="232.3" r="1.2"/>
<circle cx="152.8" cy="234.2" r="1.2"/>
<circle cx="155.3" cy="232.8" r="1.2"/>
<circle cx="147.8" cy="233.7" r="1.2"/>
<circle cx="160.9" cy="232.2" r="1.2"/>
<circle cx="160.3" cy="235.1" r="1.2"/>
<circle cx="164.8" cy="235.1" r="1.2"/>
<circle cx="164" cy="236.7" r="1.2"/>
<circle cx="154.2" cy="235.3" r="1.2"/>
<circle cx="144.4" cy="237.3" r="1.2"/>
<circle cx="143.6" cy="238.4" r="1.2"/>
<circle cx="167.3" cy="237.6" r="1.2"/>
<circle cx="157" cy="238.4" r="1.2"/>
<circle cx="159.2" cy="239" r="1.2"/>
<circle cx="158.1" cy="239.8" r="1.2"/>
<circle cx="140.2" cy="241.2" r="1.2"/>
<circle cx="154.8" cy="241.2" r="1.2"/>
<circle cx="157" cy="241.2" r="1.2"/>
<circle cx="167.3" cy="240.9" r="1.2"/>
<circle cx="140" cy="243.4" r="1.2"/>
<circle cx="152" cy="244.3" r="1.2"/>
<circle cx="154.8" cy="243.4" r="1.2"/>
<circle cx="158.7" cy="244.3" r="1.2"/>
<circle cx="170" cy="219.5" r="1.2"/>
<circle cx="168.6" cy="225.3" r="1.2"/>
<circle cx="196.8" cy="220.4" r="1.2"/>
<circle cx="192.8" cy="228.1" r="1.2"/>
<circle cx="190.3" cy="232.2" r="1.2"/>
<circle cx="169.1" cy="234.3" r="1.2"/>
<circle cx="168.6" cy="236.5" r="1.2"/>
<circle cx="171.4" cy="237.6" r="1.2"/>
<circle cx="179.7" cy="233.2" r="1.2"/>
<circle cx="182.3" cy="234.6" r="1.2"/>
<circle cx="181.2" cy="236.5" r="1.2"/>
<circle cx="182.5" cy="237.2" r="1.2"/>
<circle cx="186.4" cy="238" r="1.2"/>
<circle cx="178.1" cy="241.3" r="1.2"/>
<circle cx="179.7" cy="240.2" r="1.2"/>
<circle cx="182" cy="240.8" r="1.2"/>
<circle cx="185.9" cy="243" r="1.2"/>
<circle cx="192.8" cy="239.9" r="1.2"/>
<circle cx="199.3" cy="238.7" r="1.2"/>
<circle cx="221.6" cy="240.8" r="1.2"/>
<circle cx="176.4" cy="244.3" r="1.2"/>
<circle cx="72.9" cy="247.8" r="1.2"/>
<circle cx="79.3" cy="248.9" r="1.2"/>
<circle cx="88.9" cy="250" r="1.2"/>
<circle cx="91.1" cy="251.1" r="1.2"/>
<circle cx="99.2" cy="249.2" r="1.2"/>
<circle cx="97.8" cy="251.7" r="1.2"/>
<circle cx="106.4" cy="245.9" r="1.2"/>
<circle cx="105.9" cy="252.3" r="1.2"/>
<circle cx="108.7" cy="253.7" r="1.2"/>
<circle cx="66.2" cy="254.5" r="1.2"/>
<circle cx="72.9" cy="254.5" r="1.2"/>
<circle cx="75.1" cy="255.3" r="1.2"/>
<circle cx="93.6" cy="255.6" r="1.2"/>
<circle cx="96.9" cy="256.7" r="1.2"/>
<circle cx="98.3" cy="257.8" r="1.2"/>
<circle cx="68.1" cy="258.4" r="1.2"/>
<circle cx="106.4" cy="261.2" r="1.2"/>
<circle cx="107.5" cy="260.4" r="1.2"/>
<circle cx="105.9" cy="264" r="1.2"/>
<circle cx="89.1" cy="266.5" r="1.2"/>
<circle cx="101.6" cy="269.4" r="1.2"/>
<circle cx="101.6" cy="272.7" r="1.2"/>
<circle cx="88.3" cy="270.9" r="1.2"/>
<circle cx="81.3" cy="271.6" r="1.2"/>
<circle cx="87.1" cy="278.7" r="1.2"/>
<circle cx="109.2" cy="278.7" r="1.2"/>
<circle cx="81.3" cy="284.3" r="1.2"/>
<circle cx="119.5" cy="246.4" r="1.2"/>
<circle cx="110.5" cy="248.4" r="1.2"/>
<circle cx="112.7" cy="249.7" r="1.2"/>
<circle cx="111.1" cy="252" r="1.2"/>
<circle cx="115" cy="253.1" r="1.2"/>
<circle cx="119.5" cy="249.4" r="1.2"/>
<circle cx="123.5" cy="248.9" r="1.2"/>
<circle cx="126.5" cy="250.1" r="1.2"/>
<circle cx="132.5" cy="249.7" r="1.2"/>
<circle cx="111.4" cy="255.3" r="1.2"/>
<circle cx="133.4" cy="253.9" r="1.2"/>
<circle cx="132.6" cy="255.6" r="1.2"/>
<circle cx="134" cy="256.7" r="1.2"/>
<circle cx="110.5" cy="261.5" r="1.2"/>
<circle cx="132.6" cy="261.8" r="1.2"/>
<circle cx="136.8" cy="261.2" r="1.2"/>
<circle cx="149.2" cy="246.1" r="1.2"/>
<circle cx="148.9" cy="247.5" r="1.2"/>
<circle cx="154.8" cy="245.8" r="1.2"/>
<circle cx="156.4" cy="246.4" r="1.2"/>
<circle cx="158.7" cy="247" r="1.2"/>
<circle cx="160.3" cy="246.4" r="1.2"/>
<circle cx="161.5" cy="248.1" r="1.2"/>
<circle cx="150" cy="248.6" r="1.2"/>
<circle cx="160.9" cy="250.3" r="1.2"/>
<circle cx="167.6" cy="248.1" r="1.2"/>
<circle cx="148.9" cy="252.3" r="1.2"/>
<circle cx="150.3" cy="253.4" r="1.2"/>
<circle cx="152.2" cy="253.3" r="1.2"/>
<circle cx="158.7" cy="252.8" r="1.2"/>
<circle cx="159.5" cy="253.9" r="1.2"/>
<circle cx="163.4" cy="254.8" r="1.2"/>
<circle cx="154.5" cy="256.2" r="1.2"/>
<circle cx="139.7" cy="258.4" r="1.2"/>
<circle cx="140.5" cy="259.5" r="1.2"/>
<circle cx="148.3" cy="258.1" r="1.2"/>
<circle cx="152.2" cy="258.4" r="1.2"/>
<circle cx="153.1" cy="259.6" r="1.2"/>
<circle cx="145.5" cy="259.8" r="1.2"/>
<circle cx="157.3" cy="257.6" r="1.2"/>
<circle cx="161.5" cy="258.1" r="1.2"/>
<circle cx="156.4" cy="260.1" r="1.2"/>
<circle cx="157.3" cy="261.2" r="1.2"/>
<circle cx="160.3" cy="260.4" r="1.2"/>
<circle cx="163.4" cy="259.5" r="1.2"/>
<circle cx="164.8" cy="260.1" r="1.2"/>
<circle cx="155.9" cy="263.4" r="1.2"/>
<circle cx="159.2" cy="262.9" r="1.2"/>
<circle cx="162" cy="262.9" r="1.2"/>
<circle cx="163.7" cy="261.5" r="1.2"/>
<circle cx="148.9" cy="264.6" r="1.2"/>
<circle cx="170.2" cy="247.8" r="1.2"/>
<circle cx="177.2" cy="249.2" r="1.2"/>
<circle cx="182.3" cy="250.4" r="1.2"/>
<circle cx="185.9" cy="249.7" r="1.2"/>
<circle cx="197.9" cy="248.6" r="1.2"/>
<circle cx="202.1" cy="251.5" r="1.2"/>
<circle cx="192.8" cy="252.3" r="1.2"/>
<circle cx="194.6" cy="253.4" r="1.2"/>
<circle cx="194.8" cy="255.3" r="1.2"/>
<circle cx="168.6" cy="253.7" r="1.2"/>
<circle cx="170.8" cy="253.9" r="1.2"/>
<circle cx="172.5" cy="255.6" r="1.2"/>
<circle cx="168.6" cy="256.7" r="1.2"/>
<circle cx="180.8" cy="256.7" r="1.2"/>
<circle cx="203.5" cy="255.9" r="1.2"/>
<circle cx="206.2" cy="258.4" r="1.2"/>
<circle cx="172.5" cy="260.6" r="1.2"/>
<circle cx="171.4" cy="262.9" r="1.2"/>
<circle cx="181.6" cy="263.1" r="1.2"/>
<circle cx="185.9" cy="260.6" r="1.2"/>
<circle cx="185.7" cy="262" r="1.2"/>
<circle cx="202.1" cy="260.4" r="1.2"/>
<circle cx="204" cy="262" r="1.2"/>
<circle cx="217.2" cy="259.3" r="1.2"/>
<circle cx="223.9" cy="263.1" r="1.2"/>
<circle cx="177.2" cy="266" r="1.2"/>
<circle cx="190.3" cy="265.7" r="1.2"/>
<circle cx="188.1" cy="267.9" r="1.2"/>
<circle cx="197.1" cy="263.8" r="1.2"/>
<circle cx="197.3" cy="266" r="1.2"/>
<circle cx="194.8" cy="267.9" r="1.2"/>
<circle cx="196.5" cy="267.9" r="1.2"/>
<circle cx="168.6" cy="269" r="1.2"/>
<circle cx="175.3" cy="270.9" r="1.2"/>
<circle cx="180.8" cy="269.8" r="1.2"/>
<circle cx="210.5" cy="272.4" r="1.2"/>
<circle cx="175.3" cy="274.3" r="1.2"/>
<circle cx="177.2" cy="275.4" r="1.2"/>
<circle cx="179.7" cy="276.5" r="1.2"/>
<circle cx="198.7" cy="276.1" r="1.2"/>
<circle cx="221.6" cy="278.5" r="1.2"/>
<circle cx="194.8" cy="280.5" r="1.2"/>
<circle cx="110.5" cy="265.6" r="1.2"/>
<circle cx="110.8" cy="268.9" r="1.2"/>
<circle cx="110.8" cy="270.3" r="1.2"/>
<circle cx="112.2" cy="272.8" r="1.2"/>
<circle cx="134.3" cy="268.8" r="1.2"/>
<circle cx="127" cy="272.5" r="1.2"/>
<circle cx="128.1" cy="273.8" r="1.2"/>
<circle cx="123.6" cy="275.7" r="1.2"/>
<circle cx="129.5" cy="278.4" r="1.2"/>
<circle cx="119.5" cy="283.4" r="1.2"/>
<circle cx="145" cy="265.4" r="1.2"/>
<circle cx="154.8" cy="265.6" r="1.2"/>
<circle cx="158.4" cy="265.6" r="1.2"/>
<circle cx="165.9" cy="266.4" r="1.2"/>
<circle cx="141.4" cy="270.6" r="1.2"/>
<circle cx="148.6" cy="269.5" r="1.2"/>
<circle cx="150" cy="268.5" r="1.2"/>
<circle cx="159.2" cy="270.3" r="1.2"/>
<circle cx="164.8" cy="268.4" r="1.2"/>
<circle cx="167.1" cy="269.2" r="1.2"/>
<circle cx="144.7" cy="272.3" r="1.2"/>
<circle cx="162.9" cy="273.3" r="1.2"/>
<circle cx="163.7" cy="275.3" r="1.2"/>
<circle cx="145.8" cy="275.3" r="1.2"/>
<circle cx="148.9" cy="275.3" r="1.2"/>
<circle cx="141.4" cy="276.7" r="1.2"/>
<circle cx="146.7" cy="278.7" r="1.2"/>
<circle cx="148.1" cy="279.5" r="1.2"/>
<circle cx="149.2" cy="280.6" r="1.2"/>
<circle cx="152" cy="280.6" r="1.2"/>
<circle cx="154.8" cy="279" r="1.2"/>
<circle cx="158.4" cy="278.7" r="1.2"/>
<circle cx="141.9" cy="279.8" r="1.2"/>
<circle cx="163.4" cy="280.9" r="1.2"/>
<circle cx="165.4" cy="280.9" r="1.2"/>
<circle cx="158.9" cy="281.8" r="1.2"/>
<circle cx="140.2" cy="284" r="1.2"/>
<circle cx="152.2" cy="284.6" r="1.2"/>
<circle cx="76.8" cy="287" r="1.2"/>
<circle cx="137.9" cy="288.6" r="1.2"/>
<circle cx="165" cy="285.9" r="1.2"/>
<circle cx="156.6" cy="288.9" r="1.2"/>
<circle cx="161.1" cy="289.2" r="1.2"/>
<circle cx="161.1" cy="290.8" r="1.2"/>
<circle cx="154.9" cy="292.6" r="1.2"/>
<circle cx="162" cy="293.7" r="1.2"/>
<circle cx="110.8" cy="297.6" r="1.2"/>
<circle cx="130.1" cy="297.6" r="1.2"/>
<circle cx="152.1" cy="299.5" r="1.2"/>
<circle cx="171.4" cy="288.9" r="1.2"/>
<circle cx="172.7" cy="288.9" r="1.2"/>
<circle cx="174.9" cy="289.7" r="1.2"/>
<circle cx="170.8" cy="292.3" r="1.2"/>
<circle cx="184.5" cy="293.9" r="1.2"/>
<circle cx="185.9" cy="298.2" r="1.2"/>
<circle cx="196.8" cy="299.2" r="1.2"/>
<circle cx="207.3" cy="295.1" r="1.2"/>
<circle cx="212.7" cy="288.9" r="1.2"/>
<circle cx="214.7" cy="292.6" r="1.2"/>
<circle cx="231.2" cy="246.7" r="1.2"/>
<circle cx="229.5" cy="250.1" r="1.2"/>
<circle cx="230.3" cy="255.6" r="1.2"/>
<circle cx="228.4" cy="264.7" r="1.2"/>
</g>
<g fill="#b45c1c">
<circle cx="215.8" cy="241.6" r="1.2"/>
<circle cx="226.1" cy="245.6" r="1.2"/>
<circle cx="225.2" cy="251.5" r="1.2"/>
<circle cx="217.2" cy="261.2" r="1.2"/>
<circle cx="219.2" cy="265.7" r="1.2"/>
<circle cx="220" cy="284.1" r="1.2"/>
<circle cx="227.4" cy="297.3" r="1.2"/>
<circle cx="244" cy="270.3" r="1.2"/>
</g>
<g fill="#ffbc00">
<circle cx="165.4" cy="240.6" r="1.2"/>
<circle cx="163.7" cy="243.2" r="1.2"/>
<circle cx="181.2" cy="243.5" r="1.2"/>
<circle cx="162.9" cy="252.2" r="1.2"/>
<circle cx="165.4" cy="255.1" r="1.2"/>
<circle cx="173" cy="258.4" r="1.2"/>
<circle cx="178.9" cy="262.7" r="1.2"/>
<circle cx="172.5" cy="269.4" r="1.2"/>
<circle cx="173.6" cy="270.1" r="1.2"/>
<circle cx="169.1" cy="274.6" r="1.2"/>
<circle cx="168.6" cy="280.2" r="1.2"/>
<circle cx="152.8" cy="276.7" r="1.2"/>
<circle cx="148.1" cy="284.6" r="1.2"/>
<circle cx="146" cy="285.7" r="1.2"/>
<circle cx="150.2" cy="288.9" r="1.2"/>
<circle cx="150.2" cy="291.1" r="1.2"/>
<circle cx="162" cy="299.2" r="1.2"/>
<circle cx="191.1" cy="289.8" r="1.2"/>
</g>
<g fill="#ffff00">
<circle cx="78.2" cy="232" r="1.2"/>
<circle cx="71.5" cy="245.6" r="1.2"/>
<circle cx="72.3" cy="278" r="1.2"/>
<circle cx="65.9" cy="281.3" r="1.2"/>
<circle cx="75.7" cy="289.2" r="1.2"/>
<circle cx="72.9" cy="292.8" r="1.2"/>
</g>
<g fill="#00f0ff">
<circle cx="130.9" cy="236.7" r="1.2"/>
<circle cx="146.7" cy="230.9" r="1.2"/>
<circle cx="136.8" cy="250" r="1.2"/>
<circle cx="126.4" cy="263.7" r="1.2"/>
<circle cx="138.6" cy="247.2" r="1.2"/>
<circle cx="153.9" cy="248.6" r="1.2"/>
<circle cx="151.4" cy="251.1" r="1.2"/>
<circle cx="132.5" cy="272.3" r="1.2"/>
<circle cx="146.9" cy="267.2" r="1.2"/>
<circle cx="132.4" cy="301.8" r="1.2"/>
</g>
<g fill="#ff00ff">
<circle cx="109.2" cy="218.4" r="1.2"/>
<circle cx="105.9" cy="238" r="1.2"/>
<circle cx="110.8" cy="227.2" r="1.2"/>
<circle cx="110.2" cy="233.3" r="1.2"/>
<circle cx="113.9" cy="244.6" r="1.2"/>
<circle cx="121.7" cy="244.6" r="1.2"/>
<circle cx="119.5" cy="257" r="1.2"/>
<circle cx="125.3" cy="255.9" r="1.2"/>
<circle cx="117.2" cy="270.9" r="1.2"/>
</g>
<g fill="#00e800">
<circle cx="137.3" cy="218.1" r="1.2"/>
<circle cx="135.4" cy="222.6" r="1.2"/>
<circle cx="137.3" cy="223.4" r="1.2"/>
<circle cx="134.3" cy="230" r="1.2"/>
<circle cx="136.2" cy="233.7" r="1.2"/>
<circle cx="147.5" cy="241.8" r="1.2"/>
<circle cx="149.2" cy="242.9" r="1.2"/>
<circle cx="145.3" cy="244.3" r="1.2"/>
<circle cx="135.7" cy="248.6" r="1.2"/>
<circle cx="134.3" cy="258.7" r="1.2"/>
<circle cx="136.5" cy="264" r="1.2"/>
<circle cx="143.3" cy="248.9" r="1.2"/>
<circle cx="145.8" cy="252" r="1.2"/>
<circle cx="142.7" cy="256.2" r="1.2"/>
<circle cx="140.8" cy="261.8" r="1.2"/>
<circle cx="137.6" cy="272" r="1.2"/>
<circle cx="137.6" cy="278.4" r="1.2"/>
</g>
<g fill="#ff0000">
<circle cx="136.2" cy="243.7" r="1.2"/>
<circle cx="109.2" cy="249.7" r="1.2"/>
<circle cx="123.6" cy="260.5" r="1.2"/>
<circle cx="128.9" cy="263" r="1.2"/>
<circle cx="145.5" cy="249.2" r="1.2"/>
<circle cx="119.5" cy="276.5" r="1.2"/>
<circle cx="142.9" cy="268.8" r="1.2"/>
</g>
<g fill="#1380c6">
<circle cx="336.8" cy="217.8" r="1.2"/>
<circle cx="357.1" cy="222.9" r="1.2"/>
<circle cx="370.5" cy="220.9" r="1.2"/>
<circle cx="343.9" cy="227" r="1.2"/>
<circle cx="343.9" cy="230.1" r="1.2"/>
<circle cx="345" cy="230.9" r="1.2"/>
<circle cx="353.8" cy="229.6" r="1.2"/>
<circle cx="336.8" cy="232" r="1.2"/>
<circle cx="336.8" cy="234.6" r="1.2"/>
<circle cx="372.7" cy="232.2" r="1.2"/>
<circle cx="352.6" cy="233.5" r="1.2"/>
<circle cx="348.2" cy="236.3" r="1.2"/>
<circle cx="332.3" cy="238.5" r="1.2"/>
<circle cx="334.5" cy="240.2" r="1.2"/>
<circle cx="337.9" cy="237.6" r="1.2"/>
<circle cx="355.4" cy="237.6" r="1.2"/>
<circle cx="357.1" cy="236.8" r="1.2"/>
<circle cx="343.7" cy="240.2" r="1.2"/>
<circle cx="359.1" cy="240.8" r="1.2"/>
<circle cx="375" cy="238.3" r="1.2"/>
<circle cx="366" cy="240.2" r="1.2"/>
<circle cx="366" cy="243" r="1.2"/>
<circle cx="373.3" cy="240.8" r="1.2"/>
<circle cx="349.3" cy="243" r="1.2"/>
<circle cx="355.1" cy="243" r="1.2"/>
<circle cx="343.9" cy="244.1" r="1.2"/>
<circle cx="335.9" cy="244.7" r="1.2"/>
<circle cx="370.5" cy="244.3" r="1.2"/>
<circle cx="379.3" cy="222" r="1.2"/>
<circle cx="383" cy="221.5" r="1.2"/>
<circle cx="392.9" cy="222.1" r="1.2"/>
<circle cx="380" cy="226.2" r="1.2"/>
<circle cx="388.9" cy="225.7" r="1.2"/>
<circle cx="390.8" cy="227.3" r="1.2"/>
<circle cx="397" cy="225.9" r="1.2"/>
<circle cx="379.7" cy="230.5" r="1.2"/>
<circle cx="379.7" cy="231.8" r="1.2"/>
<circle cx="391.2" cy="231.8" r="1.2"/>
<circle cx="379.7" cy="235.2" r="1.2"/>
<circle cx="383.8" cy="235.4" r="1.2"/>
<circle cx="388.1" cy="235.2" r="1.2"/>
<circle cx="389.2" cy="234.3" r="1.2"/>
<circle cx="404.3" cy="232.2" r="1.2"/>
<circle cx="410.6" cy="232.9" r="1.2"/>
<circle cx="413.2" cy="236.3" r="1.2"/>
<circle cx="418.4" cy="229.2" r="1.2"/>
<circle cx="417.7" cy="234.3" r="1.2"/>
<circle cx="419.9" cy="236.8" r="1.2"/>
<circle cx="428.5" cy="228.1" r="1.2"/>
<circle cx="430" cy="235.5" r="1.2"/>
<circle cx="427.2" cy="237.2" r="1.2"/>
<circle cx="437.2" cy="231.8" r="1.2"/>
<circle cx="432.7" cy="238.5" r="1.2"/>
<circle cx="435" cy="238.5" r="1.2"/>
<circle cx="381.9" cy="241.9" r="1.2"/>
<circle cx="394.8" cy="242.1" r="1.2"/>
<circle cx="416.5" cy="241.3" r="1.2"/>
<circle cx="422.1" cy="241.3" r="1.2"/>
<circle cx="423.8" cy="241.3" r="1.2"/>
<circle cx="425.5" cy="241" r="1.2"/>
<circle cx="422.7" cy="243" r="1.2"/>
<circle cx="424.4" cy="243" r="1.2"/>
<circle cx="390.3" cy="244.1" r="1.2"/>
<circle cx="379.7" cy="244.1" r="1.2"/>
<circle cx="433.3" cy="244.1" r="1.2"/>
<circle cx="465.7" cy="228.5" r="1.2"/>
<circle cx="450.8" cy="241.3" r="1.2"/>
<circle cx="451.6" cy="243.5" r="1.2"/>
<circle cx="459.2" cy="242.8" r="1.2"/>
<circle cx="461.5" cy="241" r="1.2"/>
<circle cx="490.5" cy="241.9" r="1.2"/>
<circle cx="339.8" cy="247.8" r="1.2"/>
<circle cx="342" cy="249.2" r="1.2"/>
<circle cx="334.8" cy="249.2" r="1.2"/>
<circle cx="355.1" cy="246.1" r="1.2"/>
<circle cx="355.4" cy="249.2" r="1.2"/>
<circle cx="366.6" cy="245.6" r="1.2"/>
<circle cx="373.9" cy="250" r="1.2"/>
<circle cx="375" cy="252.8" r="1.2"/>
<circle cx="375" cy="255.6" r="1.2"/>
<circle cx="375" cy="261.2" r="1.2"/>
<circle cx="377.2" cy="260.6" r="1.2"/>
<circle cx="348.2" cy="256.7" r="1.2"/>
<circle cx="359.7" cy="256.4" r="1.2"/>
<circle cx="366.6" cy="255.3" r="1.2"/>
<circle cx="367.7" cy="260.1" r="1.2"/>
<circle cx="334.8" cy="262.7" r="1.2"/>
<circle cx="343.9" cy="265.7" r="1.2"/>
<circle cx="352.9" cy="266.5" r="1.2"/>
<circle cx="358.2" cy="264.8" r="1.2"/>
<circle cx="375.5" cy="266.5" r="1.2"/>
<circle cx="375" cy="269.8" r="1.2"/>
<circle cx="376.7" cy="272.4" r="1.2"/>
<circle cx="337.2" cy="270.9" r="1.2"/>
<circle cx="358.2" cy="272.4" r="1.2"/>
<circle cx="362.7" cy="272.7" r="1.2"/>
<circle cx="357.1" cy="277.4" r="1.2"/>
<circle cx="366" cy="277.6" r="1.2"/>
<circle cx="370.5" cy="278.1" r="1.2"/>
<circle cx="356.5" cy="282.4" r="1.2"/>
<circle cx="370.5" cy="281.6" r="1.2"/>
<circle cx="383.9" cy="245.6" r="1.2"/>
<circle cx="380" cy="248.1" r="1.2"/>
<circle cx="390.6" cy="248.4" r="1.2"/>
<circle cx="392.8" cy="249.2" r="1.2"/>
<circle cx="395.9" cy="249.5" r="1.2"/>
<circle cx="395.9" cy="250.9" r="1.2"/>
<circle cx="394.8" cy="253.7" r="1.2"/>
<circle cx="383.9" cy="251.3" r="1.2"/>
<circle cx="380.2" cy="256.7" r="1.2"/>
<circle cx="388.3" cy="258.3" r="1.2"/>
<circle cx="381.6" cy="260.6" r="1.2"/>
<circle cx="383.9" cy="262.3" r="1.2"/>
<circle cx="378.6" cy="263.2" r="1.2"/>
<circle cx="401.5" cy="250" r="1.2"/>
<circle cx="407.1" cy="248.6" r="1.2"/>
<circle cx="406.8" cy="250" r="1.2"/>
<circle cx="401.7" cy="254.5" r="1.2"/>
<circle cx="406.2" cy="258.7" r="1.2"/>
<circle cx="402.6" cy="259.8" r="1.2"/>
<circle cx="401.7" cy="262" r="1.2"/>
<circle cx="422.5" cy="245.4" r="1.2"/>
<circle cx="437.1" cy="245.6" r="1.2"/>
<circle cx="423.6" cy="247" r="1.2"/>
<circle cx="425.3" cy="247.2" r="1.2"/>
<circle cx="427" cy="247" r="1.2"/>
<circle cx="428.9" cy="247.5" r="1.2"/>
<circle cx="421.4" cy="248.4" r="1.2"/>
<circle cx="413" cy="249.2" r="1.2"/>
<circle cx="435.9" cy="248.9" r="1.2"/>
<circle cx="437.3" cy="248.1" r="1.2"/>
<circle cx="417.8" cy="251.1" r="1.2"/>
<circle cx="425.3" cy="251.4" r="1.2"/>
<circle cx="426.4" cy="252.8" r="1.2"/>
<circle cx="413" cy="255.3" r="1.2"/>
<circle cx="419.7" cy="255.1" r="1.2"/>
<circle cx="422.8" cy="253.7" r="1.2"/>
<circle cx="424.8" cy="254.5" r="1.2"/>
<circle cx="428.7" cy="255.3" r="1.2"/>
<circle cx="437.3" cy="253.9" r="1.2"/>
<circle cx="437.3" cy="256.7" r="1.2"/>
<circle cx="425.6" cy="257.8" r="1.2"/>
<circle cx="408.6" cy="259.8" r="1.2"/>
<circle cx="417.8" cy="259.8" r="1.2"/>
<circle cx="425.9" cy="260.1" r="1.2"/>
<circle cx="427.3" cy="260.1" r="1.2"/>
<circle cx="428.9" cy="259.8" r="1.2"/>
<circle cx="432" cy="259.8" r="1.2"/>
<circle cx="413.6" cy="261.2" r="1.2"/>
<circle cx="424.5" cy="262.3" r="1.2"/>
<circle cx="428.1" cy="262.9" r="1.2"/>
<circle cx="429.8" cy="262.9" r="1.2"/>
<circle cx="433.4" cy="263.4" r="1.2"/>
<circle cx="424.2" cy="264.3" r="1.2"/>
<circle cx="446.9" cy="245.6" r="1.2"/>
<circle cx="455.9" cy="246.3" r="1.2"/>
<circle cx="468.2" cy="245.6" r="1.2"/>
<circle cx="452" cy="250" r="1.2"/>
<circle cx="450.8" cy="253" r="1.2"/>
<circle cx="439.1" cy="253.7" r="1.2"/>
<circle cx="439.7" cy="256.2" r="1.2"/>
<circle cx="440.2" cy="258.4" r="1.2"/>
<circle cx="448.9" cy="256.7" r="1.2"/>
<circle cx="454.8" cy="255.3" r="1.2"/>
<circle cx="454.8" cy="257.8" r="1.2"/>
<circle cx="451.2" cy="259.5" r="1.2"/>
<circle cx="451.6" cy="260.9" r="1.2"/>
<circle cx="454.8" cy="261.8" r="1.2"/>
<circle cx="463.1" cy="255.9" r="1.2"/>
<circle cx="467.3" cy="255.9" r="1.2"/>
<circle cx="471" cy="254.7" r="1.2"/>
<circle cx="463.7" cy="259" r="1.2"/>
<circle cx="463.7" cy="261.8" r="1.2"/>
<circle cx="472.6" cy="264" r="1.2"/>
<circle cx="472.6" cy="265.7" r="1.2"/>
<circle cx="439.7" cy="266.5" r="1.2"/>
<circle cx="461.5" cy="266.5" r="1.2"/>
<circle cx="449.7" cy="267.9" r="1.2"/>
<circle cx="440.2" cy="270.1" r="1.2"/>
<circle cx="445.8" cy="269.8" r="1.2"/>
<circle cx="445.6" cy="271.8" r="1.2"/>
<circle cx="453.4" cy="269.4" r="1.2"/>
<circle cx="486" cy="269" r="1.2"/>
<circle cx="492.7" cy="272.4" r="1.2"/>
<circle cx="497.2" cy="269" r="1.2"/>
<circle cx="472.6" cy="272.4" r="1.2"/>
<circle cx="454.8" cy="273.8" r="1.2"/>
<circle cx="454.5" cy="275.4" r="1.2"/>
<circle cx="457" cy="275.2" r="1.2"/>
<circle cx="450.8" cy="276.5" r="1.2"/>
<circle cx="465.9" cy="276.1" r="1.2"/>
<circle cx="465.4" cy="278" r="1.2"/>
<circle cx="446" cy="278" r="1.2"/>
<circle cx="474.9" cy="278" r="1.2"/>
<circle cx="479.3" cy="278.5" r="1.2"/>
<circle cx="441.9" cy="279.9" r="1.2"/>
<circle cx="448.9" cy="281.3" r="1.2"/>
<circle cx="463.9" cy="281.3" r="1.2"/>
<circle cx="444.5" cy="282.4" r="1.2"/>
<circle cx="454.8" cy="282.4" r="1.2"/>
<circle cx="471" cy="284.3" r="1.2"/>
<circle cx="401.7" cy="267.5" r="1.2"/>
<circle cx="401.7" cy="269.2" r="1.2"/>
<circle cx="406.2" cy="267.5" r="1.2"/>
<circle cx="380.2" cy="270.9" r="1.2"/>
<circle cx="395.3" cy="270.6" r="1.2"/>
<circle cx="379.4" cy="276.7" r="1.2"/>
<circle cx="381.4" cy="279.2" r="1.2"/>
<circle cx="392.8" cy="278.3" r="1.2"/>
<circle cx="395.9" cy="276.7" r="1.2"/>
<circle cx="397" cy="278.4" r="1.2"/>
<circle cx="397.8" cy="279.6" r="1.2"/>
<circle cx="398.7" cy="280.9" r="1.2"/>
<circle cx="401.5" cy="280.9" r="1.2"/>
<circle cx="403.4" cy="281.2" r="1.2"/>
<circle cx="379.1" cy="283.7" r="1.2"/>
<circle cx="417.8" cy="266.1" r="1.2"/>
<circle cx="419.7" cy="266.4" r="1.2"/>
<circle cx="426.4" cy="267.2" r="1.2"/>
<circle cx="429.2" cy="267.2" r="1.2"/>
<circle cx="408.6" cy="273.7" r="1.2"/>
<circle cx="415" cy="269.2" r="1.2"/>
<circle cx="417.8" cy="269.5" r="1.2"/>
<circle cx="422" cy="269.7" r="1.2"/>
<circle cx="423.1" cy="271.1" r="1.2"/>
<circle cx="424.8" cy="274.2" r="1.2"/>
<circle cx="428.4" cy="269.5" r="1.2"/>
<circle cx="430.3" cy="268.9" r="1.2"/>
<circle cx="433.7" cy="269.7" r="1.2"/>
<circle cx="437.1" cy="270.6" r="1.2"/>
<circle cx="428.7" cy="272.8" r="1.2"/>
<circle cx="428.7" cy="274.5" r="1.2"/>
<circle cx="430.3" cy="275.1" r="1.2"/>
<circle cx="432" cy="274.8" r="1.2"/>
<circle cx="433.4" cy="274.8" r="1.2"/>
<circle cx="437.1" cy="273.7" r="1.2"/>
<circle cx="419.7" cy="277" r="1.2"/>
<circle cx="427" cy="277.6" r="1.2"/>
<circle cx="428.1" cy="278.4" r="1.2"/>
<circle cx="433.7" cy="278" r="1.2"/>
<circle cx="437.1" cy="277" r="1.2"/>
<circle cx="411.1" cy="280.1" r="1.2"/>
<circle cx="417.2" cy="279.6" r="1.2"/>
<circle cx="426.2" cy="279.8" r="1.2"/>
<circle cx="423.9" cy="282.9" r="1.2"/>
<circle cx="413.6" cy="283.4" r="1.2"/>
<circle cx="416.4" cy="283.4" r="1.2"/>
<circle cx="431.5" cy="283.4" r="1.2"/>
<circle cx="435.4" cy="283.4" r="1.2"/>
<circle cx="345.7" cy="291.7" r="1.2"/>
<circle cx="350.2" cy="289.5" r="1.2"/>
<circle cx="350.2" cy="293.6" r="1.2"/>
<circle cx="375" cy="298.1" r="1.2"/>
<circle cx="375" cy="316.8" r="1.2"/>
<circle cx="388.6" cy="287" r="1.2"/>
<circle cx="403.9" cy="285.6" r="1.2"/>
<circle cx="379.7" cy="293.4" r="1.2"/>
<circle cx="392.7" cy="293.4" r="1.2"/>
<circle cx="409.3" cy="289.2" r="1.2"/>
<circle cx="410.6" cy="292.6" r="1.2"/>
<circle cx="407.1" cy="295.6" r="1.2"/>
<circle cx="414.9" cy="291.7" r="1.2"/>
<circle cx="418" cy="287.8" r="1.2"/>
<circle cx="418" cy="290" r="1.2"/>
<circle cx="421.6" cy="288.1" r="1.2"/>
<circle cx="425.8" cy="289.5" r="1.2"/>
<circle cx="427.2" cy="291.9" r="1.2"/>
<circle cx="428.8" cy="286.1" r="1.2"/>
<circle cx="428.8" cy="287.8" r="1.2"/>
<circle cx="433.9" cy="285.6" r="1.2"/>
<circle cx="435.5" cy="288.4" r="1.2"/>
<circle cx="423.8" cy="295.6" r="1.2"/>
<circle cx="432.7" cy="295.1" r="1.2"/>
<circle cx="379.7" cy="303.4" r="1.2"/>
<circle cx="399.2" cy="305.1" r="1.2"/>
<circle cx="411" cy="303.1" r="1.2"/>
<circle cx="421.6" cy="304.6" r="1.2"/>
<circle cx="430" cy="302.9" r="1.2"/>
<circle cx="433.9" cy="303.1" r="1.2"/>
<circle cx="428.5" cy="307.1" r="1.2"/>
<circle cx="421.6" cy="313.8" r="1.2"/>
<circle cx="410.6" cy="318" r="1.2"/>
<circle cx="446" cy="286.1" r="1.2"/>
<circle cx="459.2" cy="287.2" r="1.2"/>
<circle cx="461.7" cy="285.6" r="1.2"/>
<circle cx="479.1" cy="286.7" r="1.2"/>
<circle cx="490.5" cy="290.6" r="1.2"/>
<circle cx="444.7" cy="293.4" r="1.2"/>
<circle cx="444.1" cy="295.8" r="1.2"/>
<circle cx="449.7" cy="292.8" r="1.2"/>
<circle cx="466.2" cy="289.5" r="1.2"/>
<circle cx="467.6" cy="295.1" r="1.2"/>
<circle cx="481.6" cy="292.6" r="1.2"/>
<circle cx="440" cy="298.1" r="1.2"/>
<circle cx="453.9" cy="299.5" r="1.2"/>
<circle cx="483.3" cy="299.2" r="1.2"/>
<circle cx="440.2" cy="303.1" r="1.2"/>
<circle cx="441.9" cy="307" r="1.2"/>
<circle cx="463.7" cy="306.6" r="1.2"/>
<circle cx="454.8" cy="310.7" r="1.2"/>
<circle cx="476.5" cy="312" r="1.2"/>
<circle cx="448.9" cy="314.1" r="1.2"/>
<circle cx="465.7" cy="316.8" r="1.2"/>
<circle cx="500.6" cy="255.6" r="1.2"/>
<circle cx="498.6" cy="258.2" r="1.2"/>
<circle cx="499.6" cy="270.6" r="1.2"/>
</g>
<g fill="#b45c1c">
<circle cx="495.5" cy="254.8" r="1.2"/>
<circle cx="484.9" cy="259.5" r="1.2"/>
<circle cx="486" cy="264.9" r="1.2"/>
<circle cx="487.7" cy="270.9" r="1.2"/>
<circle cx="494.2" cy="272.4" r="1.2"/>
<circle cx="489.2" cy="287.8" r="1.2"/>
<circle cx="497" cy="305.4" r="1.2"/>
<circle cx="512.7" cy="274.8" r="1.2"/>
</g>
<g fill="#ffbc00">
<circle cx="431.7" cy="255.1" r="1.2"/>
<circle cx="432.6" cy="258.1" r="1.2"/>
<circle cx="434.3" cy="264.6" r="1.2"/>
<circle cx="449.7" cy="248.1" r="1.2"/>
<circle cx="441.9" cy="265.7" r="1.2"/>
<circle cx="447.8" cy="270.1" r="1.2"/>
<circle cx="442.5" cy="275.2" r="1.2"/>
<circle cx="438.6" cy="280.2" r="1.2"/>
<circle cx="422" cy="280" r="1.2"/>
<circle cx="417.3" cy="291.9" r="1.2"/>
<circle cx="419.6" cy="292.8" r="1.2"/>
<circle cx="419.6" cy="295.9" r="1.2"/>
<circle cx="437.2" cy="290.8" r="1.2"/>
<circle cx="431.1" cy="302" r="1.2"/>
<circle cx="441.9" cy="290" r="1.2"/>
<circle cx="460.3" cy="309.8" r="1.2"/>
</g>
<g fill="#ffff00">
<circle cx="347.3" cy="247.5" r="1.2"/>
<circle cx="340.9" cy="259" r="1.2"/>
<circle cx="334.8" cy="284.3" r="1.2"/>
<circle cx="344.8" cy="293.4" r="1.2"/>
<circle cx="341.1" cy="299.9" r="1.2"/>
<circle cx="341.8" cy="310.4" r="1.2"/>
</g>
<g fill="#00f0ff">
<circle cx="416" cy="238.2" r="1.2"/>
<circle cx="399.8" cy="241.5" r="1.2"/>
<circle cx="400.6" cy="254.5" r="1.2"/>
<circle cx="405.9" cy="255.9" r="1.2"/>
<circle cx="408.6" cy="253.7" r="1.2"/>
<circle cx="422.8" cy="255.6" r="1.2"/>
<circle cx="420" cy="262.8" r="1.2"/>
<circle cx="395.3" cy="271.7" r="1.2"/>
<circle cx="401.7" cy="277.6" r="1.2"/>
<circle cx="415.8" cy="293.4" r="1.2"/>
<circle cx="401.7" cy="306.2" r="1.2"/>
</g>
<g fill="#ff00ff">
<circle cx="379.1" cy="239.1" r="1.2"/>
<circle cx="379.7" cy="240.8" r="1.2"/>
<circle cx="375" cy="258.2" r="1.2"/>
<circle cx="378.6" cy="245.6" r="1.2"/>
<circle cx="383" cy="263.4" r="1.2"/>
<circle cx="388.1" cy="267.8" r="1.2"/>
<circle cx="390.6" cy="268.4" r="1.2"/>
<circle cx="394.8" cy="267.2" r="1.2"/>
<circle cx="386" cy="286.3" r="1.2"/>
</g>
<g fill="#00e800">
<circle cx="406.5" cy="234.3" r="1.2"/>
<circle cx="406.8" cy="235.7" r="1.2"/>
<circle cx="404.3" cy="238.2" r="1.2"/>
<circle cx="405.1" cy="246.7" r="1.2"/>
<circle cx="403.7" cy="248.9" r="1.2"/>
<circle cx="406.2" cy="253.4" r="1.2"/>
<circle cx="404.5" cy="263.2" r="1.2"/>
<circle cx="418.1" cy="254.5" r="1.2"/>
<circle cx="412.5" cy="258.1" r="1.2"/>
<circle cx="414.7" cy="258.1" r="1.2"/>
<circle cx="416.9" cy="261.5" r="1.2"/>
<circle cx="415" cy="264.3" r="1.2"/>
<circle cx="407.1" cy="276.5" r="1.2"/>
<circle cx="406.5" cy="283.7" r="1.2"/>
<circle cx="411.4" cy="269.2" r="1.2"/>
<circle cx="411.6" cy="273.7" r="1.2"/>
<circle cx="409.7" cy="280.4" r="1.2"/>
<circle cx="407.9" cy="285.6" r="1.2"/>
<circle cx="404.3" cy="290" r="1.2"/>
<circle cx="403.5" cy="292.6" r="1.2"/>
</g>
<g fill="#ff0000">
<circle cx="378.6" cy="255.6" r="1.2"/>
<circle cx="406.2" cy="264.3" r="1.2"/>
<circle cx="414.7" cy="253.7" r="1.2"/>
<circle cx="392.8" cy="266.4" r="1.2"/>
<circle cx="397.8" cy="273.7" r="1.2"/>
<circle cx="388.3" cy="279.8" r="1.2"/>
<circle cx="411.6" cy="272" r="1.2"/>
</g>
<g font-family="'Liberation Serif', 'DejaVu Serif', serif" font-size="7.5" fill="#1a1a1a">
<circle cx="505.4" cy="20.5" r="1.1" fill="#ff0000"/>
<text x="509.8" y="22.9">Da Vinci</text>
<circle cx="505.4" cy="28.8" r="1.1" fill="#00e800"/>
<text x="509.8" y="31.2">Raphael</text>
<circle cx="505.4" cy="37.1" r="1.1" fill="#ffbc00"/>
<text x="509.8" y="39.5">Titian</text>
<circle cx="505.4" cy="45.4" r="1.1" fill="#ff00ff"/>
<text x="509.8" y="47.8">Botticelli</text>
<circle cx="505.4" cy="53.7" r="1.1" fill="#00f0ff"/>
<text x="509.8" y="56.1">Dürer</text>
<circle cx="505.4" cy="62" r="1.1" fill="#ffff00"/>
<text x="509.8" y="64.4">van Eyck</text>
<circle cx="505.4" cy="70.3" r="1.1" fill="#b45c1c"/>
<text x="509.8" y="72.7">Caravaggio</text>
</g>
</svg></body></html>
